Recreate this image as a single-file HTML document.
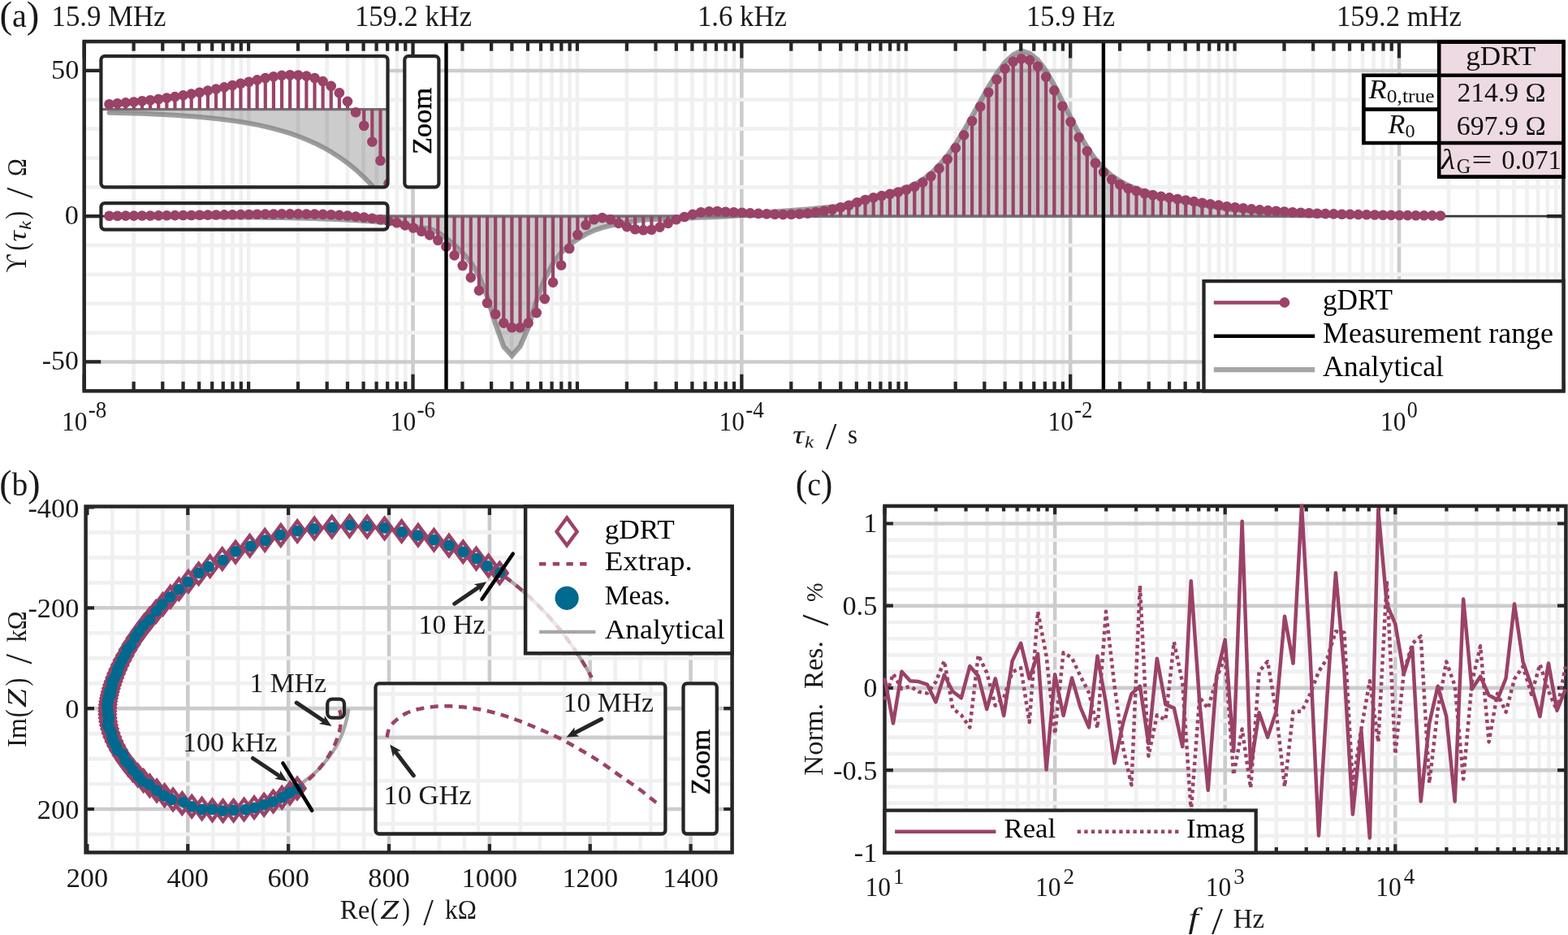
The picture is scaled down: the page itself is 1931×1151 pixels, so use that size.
<!DOCTYPE html>
<html lang="en"><head><meta charset="utf-8"><title>gDRT figure</title>
<style>html,body{margin:0;padding:0;background:#fff;overflow:hidden;}svg{display:block;}</style></head>
<body>
<svg width="1931" height="1151" viewBox="0 0 1931 1151" font-family='"Liberation Serif", "DejaVu Serif", serif'>
<rect x="0" y="0" width="1931" height="1151" rx="0" fill="#fff" stroke="none" stroke-width="0" />
<clipPath id="ca"><rect x="103.7" y="51.1" width="1821.7" height="430.2"/></clipPath>
<g clip-path="url(#ca)">
<line x1="164.63" y1="51.1" x2="164.63" y2="481.3" stroke="#f0f0f0" stroke-width="4.6" />
<line x1="200.27" y1="51.1" x2="200.27" y2="481.3" stroke="#f0f0f0" stroke-width="4.6" />
<line x1="225.56" y1="51.1" x2="225.56" y2="481.3" stroke="#f0f0f0" stroke-width="4.6" />
<line x1="245.18" y1="51.1" x2="245.18" y2="481.3" stroke="#f0f0f0" stroke-width="4.6" />
<line x1="261.21" y1="51.1" x2="261.21" y2="481.3" stroke="#f0f0f0" stroke-width="4.6" />
<line x1="274.76" y1="51.1" x2="274.76" y2="481.3" stroke="#f0f0f0" stroke-width="4.6" />
<line x1="286.5" y1="51.1" x2="286.5" y2="481.3" stroke="#f0f0f0" stroke-width="4.6" />
<line x1="296.85" y1="51.1" x2="296.85" y2="481.3" stroke="#f0f0f0" stroke-width="4.6" />
<line x1="306.11" y1="51.1" x2="306.11" y2="481.3" stroke="#f0f0f0" stroke-width="4.6" />
<line x1="367.04" y1="51.1" x2="367.04" y2="481.3" stroke="#f0f0f0" stroke-width="4.6" />
<line x1="402.69" y1="51.1" x2="402.69" y2="481.3" stroke="#f0f0f0" stroke-width="4.6" />
<line x1="427.97" y1="51.1" x2="427.97" y2="481.3" stroke="#f0f0f0" stroke-width="4.6" />
<line x1="447.59" y1="51.1" x2="447.59" y2="481.3" stroke="#f0f0f0" stroke-width="4.6" />
<line x1="463.62" y1="51.1" x2="463.62" y2="481.3" stroke="#f0f0f0" stroke-width="4.6" />
<line x1="477.17" y1="51.1" x2="477.17" y2="481.3" stroke="#f0f0f0" stroke-width="4.6" />
<line x1="488.91" y1="51.1" x2="488.91" y2="481.3" stroke="#f0f0f0" stroke-width="4.6" />
<line x1="499.26" y1="51.1" x2="499.26" y2="481.3" stroke="#f0f0f0" stroke-width="4.6" />
<line x1="508.52" y1="51.1" x2="508.52" y2="481.3" stroke="#cccccc" stroke-width="4.6" />
<line x1="569.45" y1="51.1" x2="569.45" y2="481.3" stroke="#f0f0f0" stroke-width="4.6" />
<line x1="605.1" y1="51.1" x2="605.1" y2="481.3" stroke="#f0f0f0" stroke-width="4.6" />
<line x1="630.39" y1="51.1" x2="630.39" y2="481.3" stroke="#f0f0f0" stroke-width="4.6" />
<line x1="650" y1="51.1" x2="650" y2="481.3" stroke="#f0f0f0" stroke-width="4.6" />
<line x1="666.03" y1="51.1" x2="666.03" y2="481.3" stroke="#f0f0f0" stroke-width="4.6" />
<line x1="679.58" y1="51.1" x2="679.58" y2="481.3" stroke="#f0f0f0" stroke-width="4.6" />
<line x1="691.32" y1="51.1" x2="691.32" y2="481.3" stroke="#f0f0f0" stroke-width="4.6" />
<line x1="701.67" y1="51.1" x2="701.67" y2="481.3" stroke="#f0f0f0" stroke-width="4.6" />
<line x1="710.93" y1="51.1" x2="710.93" y2="481.3" stroke="#f0f0f0" stroke-width="4.6" />
<line x1="771.87" y1="51.1" x2="771.87" y2="481.3" stroke="#f0f0f0" stroke-width="4.6" />
<line x1="807.51" y1="51.1" x2="807.51" y2="481.3" stroke="#f0f0f0" stroke-width="4.6" />
<line x1="832.8" y1="51.1" x2="832.8" y2="481.3" stroke="#f0f0f0" stroke-width="4.6" />
<line x1="852.41" y1="51.1" x2="852.41" y2="481.3" stroke="#f0f0f0" stroke-width="4.6" />
<line x1="868.44" y1="51.1" x2="868.44" y2="481.3" stroke="#f0f0f0" stroke-width="4.6" />
<line x1="881.99" y1="51.1" x2="881.99" y2="481.3" stroke="#f0f0f0" stroke-width="4.6" />
<line x1="893.73" y1="51.1" x2="893.73" y2="481.3" stroke="#f0f0f0" stroke-width="4.6" />
<line x1="904.08" y1="51.1" x2="904.08" y2="481.3" stroke="#f0f0f0" stroke-width="4.6" />
<line x1="913.34" y1="51.1" x2="913.34" y2="481.3" stroke="#cccccc" stroke-width="4.6" />
<line x1="974.28" y1="51.1" x2="974.28" y2="481.3" stroke="#f0f0f0" stroke-width="4.6" />
<line x1="1009.92" y1="51.1" x2="1009.92" y2="481.3" stroke="#f0f0f0" stroke-width="4.6" />
<line x1="1035.21" y1="51.1" x2="1035.21" y2="481.3" stroke="#f0f0f0" stroke-width="4.6" />
<line x1="1054.82" y1="51.1" x2="1054.82" y2="481.3" stroke="#f0f0f0" stroke-width="4.6" />
<line x1="1070.85" y1="51.1" x2="1070.85" y2="481.3" stroke="#f0f0f0" stroke-width="4.6" />
<line x1="1084.4" y1="51.1" x2="1084.4" y2="481.3" stroke="#f0f0f0" stroke-width="4.6" />
<line x1="1096.14" y1="51.1" x2="1096.14" y2="481.3" stroke="#f0f0f0" stroke-width="4.6" />
<line x1="1106.49" y1="51.1" x2="1106.49" y2="481.3" stroke="#f0f0f0" stroke-width="4.6" />
<line x1="1115.76" y1="51.1" x2="1115.76" y2="481.3" stroke="#f0f0f0" stroke-width="4.6" />
<line x1="1176.69" y1="51.1" x2="1176.69" y2="481.3" stroke="#f0f0f0" stroke-width="4.6" />
<line x1="1212.33" y1="51.1" x2="1212.33" y2="481.3" stroke="#f0f0f0" stroke-width="4.6" />
<line x1="1237.62" y1="51.1" x2="1237.62" y2="481.3" stroke="#f0f0f0" stroke-width="4.6" />
<line x1="1257.23" y1="51.1" x2="1257.23" y2="481.3" stroke="#f0f0f0" stroke-width="4.6" />
<line x1="1273.26" y1="51.1" x2="1273.26" y2="481.3" stroke="#f0f0f0" stroke-width="4.6" />
<line x1="1286.81" y1="51.1" x2="1286.81" y2="481.3" stroke="#f0f0f0" stroke-width="4.6" />
<line x1="1298.55" y1="51.1" x2="1298.55" y2="481.3" stroke="#f0f0f0" stroke-width="4.6" />
<line x1="1308.9" y1="51.1" x2="1308.9" y2="481.3" stroke="#f0f0f0" stroke-width="4.6" />
<line x1="1318.17" y1="51.1" x2="1318.17" y2="481.3" stroke="#cccccc" stroke-width="4.6" />
<line x1="1379.1" y1="51.1" x2="1379.1" y2="481.3" stroke="#f0f0f0" stroke-width="4.6" />
<line x1="1414.74" y1="51.1" x2="1414.74" y2="481.3" stroke="#f0f0f0" stroke-width="4.6" />
<line x1="1440.03" y1="51.1" x2="1440.03" y2="481.3" stroke="#f0f0f0" stroke-width="4.6" />
<line x1="1459.65" y1="51.1" x2="1459.65" y2="481.3" stroke="#f0f0f0" stroke-width="4.6" />
<line x1="1475.67" y1="51.1" x2="1475.67" y2="481.3" stroke="#f0f0f0" stroke-width="4.6" />
<line x1="1489.22" y1="51.1" x2="1489.22" y2="481.3" stroke="#f0f0f0" stroke-width="4.6" />
<line x1="1500.96" y1="51.1" x2="1500.96" y2="481.3" stroke="#f0f0f0" stroke-width="4.6" />
<line x1="1511.32" y1="51.1" x2="1511.32" y2="481.3" stroke="#f0f0f0" stroke-width="4.6" />
<line x1="1520.58" y1="51.1" x2="1520.58" y2="481.3" stroke="#f0f0f0" stroke-width="4.6" />
<line x1="1581.51" y1="51.1" x2="1581.51" y2="481.3" stroke="#f0f0f0" stroke-width="4.6" />
<line x1="1617.15" y1="51.1" x2="1617.15" y2="481.3" stroke="#f0f0f0" stroke-width="4.6" />
<line x1="1642.44" y1="51.1" x2="1642.44" y2="481.3" stroke="#f0f0f0" stroke-width="4.6" />
<line x1="1662.06" y1="51.1" x2="1662.06" y2="481.3" stroke="#f0f0f0" stroke-width="4.6" />
<line x1="1678.08" y1="51.1" x2="1678.08" y2="481.3" stroke="#f0f0f0" stroke-width="4.6" />
<line x1="1691.64" y1="51.1" x2="1691.64" y2="481.3" stroke="#f0f0f0" stroke-width="4.6" />
<line x1="1703.37" y1="51.1" x2="1703.37" y2="481.3" stroke="#f0f0f0" stroke-width="4.6" />
<line x1="1713.73" y1="51.1" x2="1713.73" y2="481.3" stroke="#f0f0f0" stroke-width="4.6" />
<line x1="1722.99" y1="51.1" x2="1722.99" y2="481.3" stroke="#cccccc" stroke-width="4.6" />
<line x1="1783.92" y1="51.1" x2="1783.92" y2="481.3" stroke="#f0f0f0" stroke-width="4.6" />
<line x1="1819.56" y1="51.1" x2="1819.56" y2="481.3" stroke="#f0f0f0" stroke-width="4.6" />
<line x1="1844.85" y1="51.1" x2="1844.85" y2="481.3" stroke="#f0f0f0" stroke-width="4.6" />
<line x1="1864.47" y1="51.1" x2="1864.47" y2="481.3" stroke="#f0f0f0" stroke-width="4.6" />
<line x1="1880.5" y1="51.1" x2="1880.5" y2="481.3" stroke="#f0f0f0" stroke-width="4.6" />
<line x1="1894.05" y1="51.1" x2="1894.05" y2="481.3" stroke="#f0f0f0" stroke-width="4.6" />
<line x1="1905.78" y1="51.1" x2="1905.78" y2="481.3" stroke="#f0f0f0" stroke-width="4.6" />
<line x1="1916.14" y1="51.1" x2="1916.14" y2="481.3" stroke="#f0f0f0" stroke-width="4.6" />
<line x1="103.7" y1="409.6" x2="1925.4" y2="409.6" stroke="#f0f0f0" stroke-width="4.6" />
<line x1="103.7" y1="373.75" x2="1925.4" y2="373.75" stroke="#f0f0f0" stroke-width="4.6" />
<line x1="103.7" y1="337.9" x2="1925.4" y2="337.9" stroke="#f0f0f0" stroke-width="4.6" />
<line x1="103.7" y1="302.05" x2="1925.4" y2="302.05" stroke="#f0f0f0" stroke-width="4.6" />
<line x1="103.7" y1="230.35" x2="1925.4" y2="230.35" stroke="#f0f0f0" stroke-width="4.6" />
<line x1="103.7" y1="194.5" x2="1925.4" y2="194.5" stroke="#f0f0f0" stroke-width="4.6" />
<line x1="103.7" y1="158.65" x2="1925.4" y2="158.65" stroke="#f0f0f0" stroke-width="4.6" />
<line x1="103.7" y1="122.8" x2="1925.4" y2="122.8" stroke="#f0f0f0" stroke-width="4.6" />
<line x1="103.7" y1="445.45" x2="1925.4" y2="445.45" stroke="#cccccc" stroke-width="4.6" />
<line x1="103.7" y1="266.2" x2="1925.4" y2="266.2" stroke="#cccccc" stroke-width="4.6" />
<line x1="103.7" y1="86.95" x2="1925.4" y2="86.95" stroke="#cccccc" stroke-width="4.6" />
<line x1="103.7" y1="266.2" x2="1925.4" y2="266.2" stroke="#333333" stroke-width="2.2" />
<polygon points="134.5,266.2 134.5,266.47 144.62,266.49 154.74,266.51 164.86,266.53 174.98,266.55 185.1,266.58 195.22,266.61 205.34,266.64 215.46,266.68 225.58,266.72 235.7,266.77 245.82,266.83 255.94,266.89 266.06,266.96 276.18,267.04 286.3,267.13 296.42,267.23 306.54,267.34 316.66,267.47 326.78,267.62 336.9,267.78 347.02,267.96 357.14,268.17 367.26,268.41 377.38,268.67 387.5,268.97 397.62,269.31 407.74,269.69 417.86,270.12 427.98,270.61 438.1,271.15 448.22,271.77 458.34,272.47 468.46,273.26 478.58,274.15 488.7,275.15 498.82,277.75 508.94,279.04 519.06,280.33 529.18,281.61 539.3,285.92 549.42,293.2 559.54,301.84 569.66,311.46 579.78,323.14 589.9,339.2 600.02,365.22 610.14,398.59 620.26,426.64 630.38,437.68 640.5,426.28 650.62,403.16 660.74,370.08 670.86,343.43 680.98,324.43 691.1,311.01 701.22,301.39 711.34,294.26 721.46,288.23 731.58,283.63 741.7,280.28 751.82,277.55 761.94,275.5 772.06,273.42 782.18,271.92 792.3,270.66 802.42,269.92 812.54,269.48 822.66,269.1 832.78,268.76 842.9,268.45 853.02,268.11 863.14,267.69 873.26,267.28 883.38,266.87 893.5,266.24 903.62,265.57 913.74,264.9 923.86,264.18 933.98,262.92 944.1,261.65 954.22,260.69 964.34,259.9 974.46,259.1 984.58,258.31 994.7,257.52 1004.82,256.62 1014.94,255.61 1025.06,254.59 1035.18,253.58 1045.3,251.19 1055.42,247.67 1065.54,244.45 1075.66,241.83 1085.78,239.51 1095.9,237.29 1106.02,234.59 1116.14,231.1 1126.26,227.1 1136.38,221.46 1146.5,213.51 1156.62,203.37 1166.74,191.52 1176.86,177.17 1186.98,161.02 1197.1,143.17 1207.22,124.93 1217.34,106.98 1227.46,90.73 1237.58,76.89 1247.7,67.55 1257.82,62.44 1267.94,65.85 1278.06,73.81 1288.18,87.33 1298.3,104.95 1308.42,124.96 1318.54,144.62 1328.66,164.28 1338.78,181.26 1348.9,196.04 1359.02,207.44 1369.14,216.34 1379.26,223 1389.38,228.36 1399.5,232.23 1409.62,235.85 1419.74,238.67 1429.86,241.18 1439.98,243.4 1450.1,245.63 1460.22,247.8 1470.34,249.98 1480.46,252.21 1490.58,253.89 1500.7,255.47 1510.82,257.25 1520.94,258.53 1531.06,259.31 1541.18,260.15 1551.3,260.98 1561.42,261.47 1571.54,261.9 1581.66,262.43 1591.78,262.9 1601.9,263.18 1612.02,263.5 1622.14,263.73 1632.26,263.91 1642.38,263.98 1652.5,264.06 1662.62,264.19 1672.74,264.32 1682.86,264.44 1692.98,264.57 1703.1,264.7 1713.22,264.85 1723.34,265 1733.46,265.1 1743.58,265.2 1753.7,265.3 1763.82,265.4 1773.94,265.5 1773.94,266.2" fill="#000" fill-opacity="0.2"/>
<line x1="134.5" y1="266.2" x2="1773.94" y2="266.2" stroke="#707070" stroke-width="3.3" />
<polyline points="134.5,266.47 144.62,266.49 154.74,266.51 164.86,266.53 174.98,266.55 185.1,266.58 195.22,266.61 205.34,266.64 215.46,266.68 225.58,266.72 235.7,266.77 245.82,266.83 255.94,266.89 266.06,266.96 276.18,267.04 286.3,267.13 296.42,267.23 306.54,267.34 316.66,267.47 326.78,267.62 336.9,267.78 347.02,267.96 357.14,268.17 367.26,268.41 377.38,268.67 387.5,268.97 397.62,269.31 407.74,269.69 417.86,270.12 427.98,270.61 438.1,271.15 448.22,271.77 458.34,272.47 468.46,273.26 478.58,274.15 488.7,275.15 498.82,277.75 508.94,279.04 519.06,280.33 529.18,281.61 539.3,285.92 549.42,293.2 559.54,301.84 569.66,311.46 579.78,323.14 589.9,339.2 600.02,365.22 610.14,398.59 620.26,426.64 630.38,437.68 640.5,426.28 650.62,403.16 660.74,370.08 670.86,343.43 680.98,324.43 691.1,311.01 701.22,301.39 711.34,294.26 721.46,288.23 731.58,283.63 741.7,280.28 751.82,277.55 761.94,275.5 772.06,273.42 782.18,271.92 792.3,270.66 802.42,269.92 812.54,269.48 822.66,269.1 832.78,268.76 842.9,268.45 853.02,268.11 863.14,267.69 873.26,267.28 883.38,266.87 893.5,266.24 903.62,265.57 913.74,264.9 923.86,264.18 933.98,262.92 944.1,261.65 954.22,260.69 964.34,259.9 974.46,259.1 984.58,258.31 994.7,257.52 1004.82,256.62 1014.94,255.61 1025.06,254.59 1035.18,253.58 1045.3,251.19 1055.42,247.67 1065.54,244.45 1075.66,241.83 1085.78,239.51 1095.9,237.29 1106.02,234.59 1116.14,231.1 1126.26,227.1 1136.38,221.46 1146.5,213.51 1156.62,203.37 1166.74,191.52 1176.86,177.17 1186.98,161.02 1197.1,143.17 1207.22,124.93 1217.34,106.98 1227.46,90.73 1237.58,76.89 1247.7,67.55 1257.82,62.44 1267.94,65.85 1278.06,73.81 1288.18,87.33 1298.3,104.95 1308.42,124.96 1318.54,144.62 1328.66,164.28 1338.78,181.26 1348.9,196.04 1359.02,207.44 1369.14,216.34 1379.26,223 1389.38,228.36 1399.5,232.23 1409.62,235.85 1419.74,238.67 1429.86,241.18 1439.98,243.4 1450.1,245.63 1460.22,247.8 1470.34,249.98 1480.46,252.21 1490.58,253.89 1500.7,255.47 1510.82,257.25 1520.94,258.53 1531.06,259.31 1541.18,260.15 1551.3,260.98 1561.42,261.47 1571.54,261.9 1581.66,262.43 1591.78,262.9 1601.9,263.18 1612.02,263.5 1622.14,263.73 1632.26,263.91 1642.38,263.98 1652.5,264.06 1662.62,264.19 1672.74,264.32 1682.86,264.44 1692.98,264.57 1703.1,264.7 1713.22,264.85 1723.34,265 1733.46,265.1 1743.58,265.2 1753.7,265.3 1763.82,265.4 1773.94,265.5" fill="none" stroke="#838383" stroke-width="6.3" stroke-opacity="0.78" stroke-linejoin="miter"/>
<path d="M134.5 266.2V265.78 M144.62 266.2V265.71 M154.74 266.2V265.65 M164.86 266.2V265.59 M174.98 266.2V265.51 M185.1 266.2V265.44 M195.22 266.2V265.36 M205.34 266.2V265.26 M215.46 266.2V265.17 M225.58 266.2V265.05 M235.7 266.2V264.93 M245.82 266.2V264.81 M255.94 266.2V264.67 M266.06 266.2V264.53 M276.18 266.2V264.39 M286.3 266.2V264.23 M296.42 266.2V264.08 M306.54 266.2V263.94 M316.66 266.2V263.79 M326.78 266.2V263.63 M336.9 266.2V263.51 M347.02 266.2V263.42 M357.14 266.2V263.38 M367.26 266.2V263.39 M377.38 266.2V263.47 M387.5 266.2V263.63 M397.62 266.2V263.9 M407.74 266.2V264.29 M417.86 266.2V264.84 M427.98 266.2V265.55 M438.1 266.2V266.44 M448.22 266.2V267.54 M458.34 266.2V268.86 M468.46 266.2V270.41 M478.58 266.2V272.29 M488.7 266.2V274.3 M498.82 266.2V277.4 M508.94 266.2V280.5 M519.06 266.2V284.7 M529.18 266.2V289.4 M539.3 266.2V295.7 M549.42 266.2V303.5 M559.54 266.2V314.4 M569.66 266.2V327 M579.78 266.2V341.6 M589.9 266.2V357.6 M600.02 266.2V373 M610.14 266.2V386.8 M620.26 266.2V397.6 M630.38 266.2V403.3 M640.5 266.2V403.3 M650.62 266.2V397.6 M660.74 266.2V385.1 M670.86 266.2V367.85 M680.98 266.2V347.6 M691.1 266.2V326.5 M701.22 266.2V306 M711.34 266.2V289 M721.46 266.2V277 M731.58 266.2V270.2 M741.7 266.2V268.15 M751.82 266.2V270.2 M761.94 266.2V274.9 M772.06 266.2V279.1 M782.18 266.2V282.2 M792.3 266.2V283.3 M802.42 266.2V282.75 M812.54 266.2V279.6 M822.66 266.2V274.9 M832.78 266.2V270.2 M842.9 266.2V267 M853.02 266.2V263.9 M863.14 266.2V261.3 M873.26 266.2V260.3 M883.38 266.2V260.05 M893.5 266.2V260.8 M903.62 266.2V261.3 M913.74 266.2V261.8 M923.86 266.2V262.35 M933.98 266.2V262.9 M944.1 266.2V263.4 M954.22 266.2V263.9 M964.34 266.2V264.1 M974.46 266.2V263.9 M984.58 266.2V263.4 M994.7 266.2V262.6 M1004.82 266.2V261.3 M1014.94 266.2V259.7 M1025.06 266.2V257.8 M1035.18 266.2V255.2 M1045.3 266.2V252.7 M1055.42 266.2V249.2 M1065.54 266.2V246 M1075.66 266.2V243.4 M1085.78 266.2V241.1 M1095.9 266.2V238.9 M1106.02 266.2V236.6 M1116.14 266.2V233.5 M1126.26 266.2V229.9 M1136.38 266.2V224.65 M1146.5 266.2V217.1 M1156.62 266.2V207.4 M1166.74 266.2V196 M1176.86 266.2V182.1 M1186.98 266.2V166.4 M1197.1 266.2V149 M1207.22 266.2V131.2 M1217.34 266.2V113.7 M1227.46 266.2V97.9 M1237.58 266.2V84.6 M1247.7 266.2V75.8 M1257.82 266.2V72.3 M1267.94 266.2V74.1 M1278.06 266.2V81.7 M1288.18 266.2V94.5 M1298.3 266.2V111.4 M1308.42 266.2V130.7 M1318.54 266.2V150 M1328.66 266.2V169.3 M1338.78 266.2V186.1 M1348.9 266.2V200.7 M1359.02 266.2V212.1 M1369.14 266.2V221 M1379.26 266.2V227.3 M1389.38 266.2V231.95 M1399.5 266.2V235.1 M1409.62 266.2V238 M1419.74 266.2V240.1 M1429.86 266.2V241.9 M1439.98 266.2V243.4 M1450.1 266.2V245 M1460.22 266.2V246.55 M1470.34 266.2V248.1 M1480.46 266.2V249.7 M1490.58 266.2V251.2 M1500.7 266.2V252.6 M1510.82 266.2V254.2 M1520.94 266.2V255.3 M1531.06 266.2V256.3 M1541.18 266.2V257.35 M1551.3 266.2V258.4 M1561.42 266.2V259.1 M1571.54 266.2V259.75 M1581.66 266.2V260.5 M1591.78 266.2V261.2 M1601.9 266.2V261.7 M1612.02 266.2V262.25 M1622.14 266.2V262.7 M1632.26 266.2V263.1 M1642.38 266.2V263.4 M1652.5 266.2V263.7 M1662.62 266.2V263.9 M1672.74 266.2V264.1 M1682.86 266.2V264.3 M1692.98 266.2V264.5 M1703.1 266.2V264.7 M1713.22 266.2V264.85 M1723.34 266.2V265 M1733.46 266.2V265.1 M1743.58 266.2V265.2 M1753.7 266.2V265.3 M1763.82 266.2V265.4 M1773.94 266.2V265.5" stroke="#9a4267" stroke-width="4.2" fill="none"/>
<circle cx="134.5" cy="265.78" r="6.3" fill="#9a4267"/>
<circle cx="144.62" cy="265.71" r="6.3" fill="#9a4267"/>
<circle cx="154.74" cy="265.65" r="6.3" fill="#9a4267"/>
<circle cx="164.86" cy="265.59" r="6.3" fill="#9a4267"/>
<circle cx="174.98" cy="265.51" r="6.3" fill="#9a4267"/>
<circle cx="185.1" cy="265.44" r="6.3" fill="#9a4267"/>
<circle cx="195.22" cy="265.36" r="6.3" fill="#9a4267"/>
<circle cx="205.34" cy="265.26" r="6.3" fill="#9a4267"/>
<circle cx="215.46" cy="265.17" r="6.3" fill="#9a4267"/>
<circle cx="225.58" cy="265.05" r="6.3" fill="#9a4267"/>
<circle cx="235.7" cy="264.93" r="6.3" fill="#9a4267"/>
<circle cx="245.82" cy="264.81" r="6.3" fill="#9a4267"/>
<circle cx="255.94" cy="264.67" r="6.3" fill="#9a4267"/>
<circle cx="266.06" cy="264.53" r="6.3" fill="#9a4267"/>
<circle cx="276.18" cy="264.39" r="6.3" fill="#9a4267"/>
<circle cx="286.3" cy="264.23" r="6.3" fill="#9a4267"/>
<circle cx="296.42" cy="264.08" r="6.3" fill="#9a4267"/>
<circle cx="306.54" cy="263.94" r="6.3" fill="#9a4267"/>
<circle cx="316.66" cy="263.79" r="6.3" fill="#9a4267"/>
<circle cx="326.78" cy="263.63" r="6.3" fill="#9a4267"/>
<circle cx="336.9" cy="263.51" r="6.3" fill="#9a4267"/>
<circle cx="347.02" cy="263.42" r="6.3" fill="#9a4267"/>
<circle cx="357.14" cy="263.38" r="6.3" fill="#9a4267"/>
<circle cx="367.26" cy="263.39" r="6.3" fill="#9a4267"/>
<circle cx="377.38" cy="263.47" r="6.3" fill="#9a4267"/>
<circle cx="387.5" cy="263.63" r="6.3" fill="#9a4267"/>
<circle cx="397.62" cy="263.9" r="6.3" fill="#9a4267"/>
<circle cx="407.74" cy="264.29" r="6.3" fill="#9a4267"/>
<circle cx="417.86" cy="264.84" r="6.3" fill="#9a4267"/>
<circle cx="427.98" cy="265.55" r="6.3" fill="#9a4267"/>
<circle cx="438.1" cy="266.44" r="6.3" fill="#9a4267"/>
<circle cx="448.22" cy="267.54" r="6.3" fill="#9a4267"/>
<circle cx="458.34" cy="268.86" r="6.3" fill="#9a4267"/>
<circle cx="468.46" cy="270.41" r="6.3" fill="#9a4267"/>
<circle cx="478.58" cy="272.29" r="6.3" fill="#9a4267"/>
<circle cx="488.7" cy="274.3" r="6.3" fill="#9a4267"/>
<circle cx="498.82" cy="277.4" r="6.3" fill="#9a4267"/>
<circle cx="508.94" cy="280.5" r="6.3" fill="#9a4267"/>
<circle cx="519.06" cy="284.7" r="6.3" fill="#9a4267"/>
<circle cx="529.18" cy="289.4" r="6.3" fill="#9a4267"/>
<circle cx="539.3" cy="295.7" r="6.3" fill="#9a4267"/>
<circle cx="549.42" cy="303.5" r="6.3" fill="#9a4267"/>
<circle cx="559.54" cy="314.4" r="6.3" fill="#9a4267"/>
<circle cx="569.66" cy="327" r="6.3" fill="#9a4267"/>
<circle cx="579.78" cy="341.6" r="6.3" fill="#9a4267"/>
<circle cx="589.9" cy="357.6" r="6.3" fill="#9a4267"/>
<circle cx="600.02" cy="373" r="6.3" fill="#9a4267"/>
<circle cx="610.14" cy="386.8" r="6.3" fill="#9a4267"/>
<circle cx="620.26" cy="397.6" r="6.3" fill="#9a4267"/>
<circle cx="630.38" cy="403.3" r="6.3" fill="#9a4267"/>
<circle cx="640.5" cy="403.3" r="6.3" fill="#9a4267"/>
<circle cx="650.62" cy="397.6" r="6.3" fill="#9a4267"/>
<circle cx="660.74" cy="385.1" r="6.3" fill="#9a4267"/>
<circle cx="670.86" cy="367.85" r="6.3" fill="#9a4267"/>
<circle cx="680.98" cy="347.6" r="6.3" fill="#9a4267"/>
<circle cx="691.1" cy="326.5" r="6.3" fill="#9a4267"/>
<circle cx="701.22" cy="306" r="6.3" fill="#9a4267"/>
<circle cx="711.34" cy="289" r="6.3" fill="#9a4267"/>
<circle cx="721.46" cy="277" r="6.3" fill="#9a4267"/>
<circle cx="731.58" cy="270.2" r="6.3" fill="#9a4267"/>
<circle cx="741.7" cy="268.15" r="6.3" fill="#9a4267"/>
<circle cx="751.82" cy="270.2" r="6.3" fill="#9a4267"/>
<circle cx="761.94" cy="274.9" r="6.3" fill="#9a4267"/>
<circle cx="772.06" cy="279.1" r="6.3" fill="#9a4267"/>
<circle cx="782.18" cy="282.2" r="6.3" fill="#9a4267"/>
<circle cx="792.3" cy="283.3" r="6.3" fill="#9a4267"/>
<circle cx="802.42" cy="282.75" r="6.3" fill="#9a4267"/>
<circle cx="812.54" cy="279.6" r="6.3" fill="#9a4267"/>
<circle cx="822.66" cy="274.9" r="6.3" fill="#9a4267"/>
<circle cx="832.78" cy="270.2" r="6.3" fill="#9a4267"/>
<circle cx="842.9" cy="267" r="6.3" fill="#9a4267"/>
<circle cx="853.02" cy="263.9" r="6.3" fill="#9a4267"/>
<circle cx="863.14" cy="261.3" r="6.3" fill="#9a4267"/>
<circle cx="873.26" cy="260.3" r="6.3" fill="#9a4267"/>
<circle cx="883.38" cy="260.05" r="6.3" fill="#9a4267"/>
<circle cx="893.5" cy="260.8" r="6.3" fill="#9a4267"/>
<circle cx="903.62" cy="261.3" r="6.3" fill="#9a4267"/>
<circle cx="913.74" cy="261.8" r="6.3" fill="#9a4267"/>
<circle cx="923.86" cy="262.35" r="6.3" fill="#9a4267"/>
<circle cx="933.98" cy="262.9" r="6.3" fill="#9a4267"/>
<circle cx="944.1" cy="263.4" r="6.3" fill="#9a4267"/>
<circle cx="954.22" cy="263.9" r="6.3" fill="#9a4267"/>
<circle cx="964.34" cy="264.1" r="6.3" fill="#9a4267"/>
<circle cx="974.46" cy="263.9" r="6.3" fill="#9a4267"/>
<circle cx="984.58" cy="263.4" r="6.3" fill="#9a4267"/>
<circle cx="994.7" cy="262.6" r="6.3" fill="#9a4267"/>
<circle cx="1004.82" cy="261.3" r="6.3" fill="#9a4267"/>
<circle cx="1014.94" cy="259.7" r="6.3" fill="#9a4267"/>
<circle cx="1025.06" cy="257.8" r="6.3" fill="#9a4267"/>
<circle cx="1035.18" cy="255.2" r="6.3" fill="#9a4267"/>
<circle cx="1045.3" cy="252.7" r="6.3" fill="#9a4267"/>
<circle cx="1055.42" cy="249.2" r="6.3" fill="#9a4267"/>
<circle cx="1065.54" cy="246" r="6.3" fill="#9a4267"/>
<circle cx="1075.66" cy="243.4" r="6.3" fill="#9a4267"/>
<circle cx="1085.78" cy="241.1" r="6.3" fill="#9a4267"/>
<circle cx="1095.9" cy="238.9" r="6.3" fill="#9a4267"/>
<circle cx="1106.02" cy="236.6" r="6.3" fill="#9a4267"/>
<circle cx="1116.14" cy="233.5" r="6.3" fill="#9a4267"/>
<circle cx="1126.26" cy="229.9" r="6.3" fill="#9a4267"/>
<circle cx="1136.38" cy="224.65" r="6.3" fill="#9a4267"/>
<circle cx="1146.5" cy="217.1" r="6.3" fill="#9a4267"/>
<circle cx="1156.62" cy="207.4" r="6.3" fill="#9a4267"/>
<circle cx="1166.74" cy="196" r="6.3" fill="#9a4267"/>
<circle cx="1176.86" cy="182.1" r="6.3" fill="#9a4267"/>
<circle cx="1186.98" cy="166.4" r="6.3" fill="#9a4267"/>
<circle cx="1197.1" cy="149" r="6.3" fill="#9a4267"/>
<circle cx="1207.22" cy="131.2" r="6.3" fill="#9a4267"/>
<circle cx="1217.34" cy="113.7" r="6.3" fill="#9a4267"/>
<circle cx="1227.46" cy="97.9" r="6.3" fill="#9a4267"/>
<circle cx="1237.58" cy="84.6" r="6.3" fill="#9a4267"/>
<circle cx="1247.7" cy="75.8" r="6.3" fill="#9a4267"/>
<circle cx="1257.82" cy="72.3" r="6.3" fill="#9a4267"/>
<circle cx="1267.94" cy="74.1" r="6.3" fill="#9a4267"/>
<circle cx="1278.06" cy="81.7" r="6.3" fill="#9a4267"/>
<circle cx="1288.18" cy="94.5" r="6.3" fill="#9a4267"/>
<circle cx="1298.3" cy="111.4" r="6.3" fill="#9a4267"/>
<circle cx="1308.42" cy="130.7" r="6.3" fill="#9a4267"/>
<circle cx="1318.54" cy="150" r="6.3" fill="#9a4267"/>
<circle cx="1328.66" cy="169.3" r="6.3" fill="#9a4267"/>
<circle cx="1338.78" cy="186.1" r="6.3" fill="#9a4267"/>
<circle cx="1348.9" cy="200.7" r="6.3" fill="#9a4267"/>
<circle cx="1359.02" cy="212.1" r="6.3" fill="#9a4267"/>
<circle cx="1369.14" cy="221" r="6.3" fill="#9a4267"/>
<circle cx="1379.26" cy="227.3" r="6.3" fill="#9a4267"/>
<circle cx="1389.38" cy="231.95" r="6.3" fill="#9a4267"/>
<circle cx="1399.5" cy="235.1" r="6.3" fill="#9a4267"/>
<circle cx="1409.62" cy="238" r="6.3" fill="#9a4267"/>
<circle cx="1419.74" cy="240.1" r="6.3" fill="#9a4267"/>
<circle cx="1429.86" cy="241.9" r="6.3" fill="#9a4267"/>
<circle cx="1439.98" cy="243.4" r="6.3" fill="#9a4267"/>
<circle cx="1450.1" cy="245" r="6.3" fill="#9a4267"/>
<circle cx="1460.22" cy="246.55" r="6.3" fill="#9a4267"/>
<circle cx="1470.34" cy="248.1" r="6.3" fill="#9a4267"/>
<circle cx="1480.46" cy="249.7" r="6.3" fill="#9a4267"/>
<circle cx="1490.58" cy="251.2" r="6.3" fill="#9a4267"/>
<circle cx="1500.7" cy="252.6" r="6.3" fill="#9a4267"/>
<circle cx="1510.82" cy="254.2" r="6.3" fill="#9a4267"/>
<circle cx="1520.94" cy="255.3" r="6.3" fill="#9a4267"/>
<circle cx="1531.06" cy="256.3" r="6.3" fill="#9a4267"/>
<circle cx="1541.18" cy="257.35" r="6.3" fill="#9a4267"/>
<circle cx="1551.3" cy="258.4" r="6.3" fill="#9a4267"/>
<circle cx="1561.42" cy="259.1" r="6.3" fill="#9a4267"/>
<circle cx="1571.54" cy="259.75" r="6.3" fill="#9a4267"/>
<circle cx="1581.66" cy="260.5" r="6.3" fill="#9a4267"/>
<circle cx="1591.78" cy="261.2" r="6.3" fill="#9a4267"/>
<circle cx="1601.9" cy="261.7" r="6.3" fill="#9a4267"/>
<circle cx="1612.02" cy="262.25" r="6.3" fill="#9a4267"/>
<circle cx="1622.14" cy="262.7" r="6.3" fill="#9a4267"/>
<circle cx="1632.26" cy="263.1" r="6.3" fill="#9a4267"/>
<circle cx="1642.38" cy="263.4" r="6.3" fill="#9a4267"/>
<circle cx="1652.5" cy="263.7" r="6.3" fill="#9a4267"/>
<circle cx="1662.62" cy="263.9" r="6.3" fill="#9a4267"/>
<circle cx="1672.74" cy="264.1" r="6.3" fill="#9a4267"/>
<circle cx="1682.86" cy="264.3" r="6.3" fill="#9a4267"/>
<circle cx="1692.98" cy="264.5" r="6.3" fill="#9a4267"/>
<circle cx="1703.1" cy="264.7" r="6.3" fill="#9a4267"/>
<circle cx="1713.22" cy="264.85" r="6.3" fill="#9a4267"/>
<circle cx="1723.34" cy="265" r="6.3" fill="#9a4267"/>
<circle cx="1733.46" cy="265.1" r="6.3" fill="#9a4267"/>
<circle cx="1743.58" cy="265.2" r="6.3" fill="#9a4267"/>
<circle cx="1753.7" cy="265.3" r="6.3" fill="#9a4267"/>
<circle cx="1763.82" cy="265.4" r="6.3" fill="#9a4267"/>
<circle cx="1773.94" cy="265.5" r="6.3" fill="#9a4267"/>
<line x1="549.5" y1="51.1" x2="549.5" y2="481.3" stroke="#000" stroke-width="4.4" />
<line x1="1358.9" y1="51.1" x2="1358.9" y2="481.3" stroke="#000" stroke-width="4.4" />
</g>
<path d="M103.7 481.3v-20.5M103.7 51.1v20.5M164.63 481.3v-11.6M164.63 51.1v11.6M200.27 481.3v-11.6M200.27 51.1v11.6M225.56 481.3v-11.6M225.56 51.1v11.6M245.18 481.3v-11.6M245.18 51.1v11.6M261.21 481.3v-11.6M261.21 51.1v11.6M274.76 481.3v-11.6M274.76 51.1v11.6M286.5 481.3v-11.6M286.5 51.1v11.6M296.85 481.3v-11.6M296.85 51.1v11.6M306.11 481.3v-11.6M306.11 51.1v11.6M367.04 481.3v-11.6M367.04 51.1v11.6M402.69 481.3v-11.6M402.69 51.1v11.6M427.97 481.3v-11.6M427.97 51.1v11.6M447.59 481.3v-11.6M447.59 51.1v11.6M463.62 481.3v-11.6M463.62 51.1v11.6M477.17 481.3v-11.6M477.17 51.1v11.6M488.91 481.3v-11.6M488.91 51.1v11.6M499.26 481.3v-11.6M499.26 51.1v11.6M508.52 481.3v-20.5M508.52 51.1v20.5M569.45 481.3v-11.6M569.45 51.1v11.6M605.1 481.3v-11.6M605.1 51.1v11.6M630.39 481.3v-11.6M630.39 51.1v11.6M650 481.3v-11.6M650 51.1v11.6M666.03 481.3v-11.6M666.03 51.1v11.6M679.58 481.3v-11.6M679.58 51.1v11.6M691.32 481.3v-11.6M691.32 51.1v11.6M701.67 481.3v-11.6M701.67 51.1v11.6M710.93 481.3v-11.6M710.93 51.1v11.6M771.87 481.3v-11.6M771.87 51.1v11.6M807.51 481.3v-11.6M807.51 51.1v11.6M832.8 481.3v-11.6M832.8 51.1v11.6M852.41 481.3v-11.6M852.41 51.1v11.6M868.44 481.3v-11.6M868.44 51.1v11.6M881.99 481.3v-11.6M881.99 51.1v11.6M893.73 481.3v-11.6M893.73 51.1v11.6M904.08 481.3v-11.6M904.08 51.1v11.6M913.34 481.3v-20.5M913.34 51.1v20.5M974.28 481.3v-11.6M974.28 51.1v11.6M1009.92 481.3v-11.6M1009.92 51.1v11.6M1035.21 481.3v-11.6M1035.21 51.1v11.6M1054.82 481.3v-11.6M1054.82 51.1v11.6M1070.85 481.3v-11.6M1070.85 51.1v11.6M1084.4 481.3v-11.6M1084.4 51.1v11.6M1096.14 481.3v-11.6M1096.14 51.1v11.6M1106.49 481.3v-11.6M1106.49 51.1v11.6M1115.76 481.3v-11.6M1115.76 51.1v11.6M1176.69 481.3v-11.6M1176.69 51.1v11.6M1212.33 481.3v-11.6M1212.33 51.1v11.6M1237.62 481.3v-11.6M1237.62 51.1v11.6M1257.23 481.3v-11.6M1257.23 51.1v11.6M1273.26 481.3v-11.6M1273.26 51.1v11.6M1286.81 481.3v-11.6M1286.81 51.1v11.6M1298.55 481.3v-11.6M1298.55 51.1v11.6M1308.9 481.3v-11.6M1308.9 51.1v11.6M1318.17 481.3v-20.5M1318.17 51.1v20.5M1379.1 481.3v-11.6M1379.1 51.1v11.6M1414.74 481.3v-11.6M1414.74 51.1v11.6M1440.03 481.3v-11.6M1440.03 51.1v11.6M1459.65 481.3v-11.6M1459.65 51.1v11.6M1475.67 481.3v-11.6M1475.67 51.1v11.6M1489.22 481.3v-11.6M1489.22 51.1v11.6M1500.96 481.3v-11.6M1500.96 51.1v11.6M1511.32 481.3v-11.6M1511.32 51.1v11.6M1520.58 481.3v-11.6M1520.58 51.1v11.6M1581.51 481.3v-11.6M1581.51 51.1v11.6M1617.15 481.3v-11.6M1617.15 51.1v11.6M1642.44 481.3v-11.6M1642.44 51.1v11.6M1662.06 481.3v-11.6M1662.06 51.1v11.6M1678.08 481.3v-11.6M1678.08 51.1v11.6M1691.64 481.3v-11.6M1691.64 51.1v11.6M1703.37 481.3v-11.6M1703.37 51.1v11.6M1713.73 481.3v-11.6M1713.73 51.1v11.6M1722.99 481.3v-20.5M1722.99 51.1v20.5M1783.92 481.3v-11.6M1783.92 51.1v11.6M1819.56 481.3v-11.6M1819.56 51.1v11.6M1844.85 481.3v-11.6M1844.85 51.1v11.6M1864.47 481.3v-11.6M1864.47 51.1v11.6M1880.5 481.3v-11.6M1880.5 51.1v11.6M1894.05 481.3v-11.6M1894.05 51.1v11.6M1905.78 481.3v-11.6M1905.78 51.1v11.6M1916.14 481.3v-11.6M1916.14 51.1v11.6M1925.4 481.3v-11.6M1925.4 51.1v11.6M103.7 445.45h20.5M1925.4 445.45h-20.5M103.7 266.2h20.5M1925.4 266.2h-20.5M103.7 86.95h20.5M1925.4 86.95h-20.5" stroke="#262626" stroke-width="4.2" fill="none"/>
<rect x="103.7" y="51.1" width="1821.7" height="430.2" rx="0" fill="none" stroke="#262626" stroke-width="4.5" />
<rect x="124.4" y="69.05" width="353.1" height="161.25" rx="4.5" fill="#fff" stroke="none" stroke-width="0" />
<clipPath id="cai"><rect x="124.4" y="69.05" width="353.1" height="161.25" rx="4.5"/></clipPath>
<g clip-path="url(#cai)">
<line x1="164.63" y1="69.05" x2="164.63" y2="230.3" stroke="#f0f0f0" stroke-width="4.6" />
<line x1="200.27" y1="69.05" x2="200.27" y2="230.3" stroke="#f0f0f0" stroke-width="4.6" />
<line x1="225.56" y1="69.05" x2="225.56" y2="230.3" stroke="#f0f0f0" stroke-width="4.6" />
<line x1="245.18" y1="69.05" x2="245.18" y2="230.3" stroke="#f0f0f0" stroke-width="4.6" />
<line x1="261.21" y1="69.05" x2="261.21" y2="230.3" stroke="#f0f0f0" stroke-width="4.6" />
<line x1="274.76" y1="69.05" x2="274.76" y2="230.3" stroke="#f0f0f0" stroke-width="4.6" />
<line x1="286.5" y1="69.05" x2="286.5" y2="230.3" stroke="#f0f0f0" stroke-width="4.6" />
<line x1="296.85" y1="69.05" x2="296.85" y2="230.3" stroke="#f0f0f0" stroke-width="4.6" />
<line x1="306.11" y1="69.05" x2="306.11" y2="230.3" stroke="#f0f0f0" stroke-width="4.6" />
<line x1="367.04" y1="69.05" x2="367.04" y2="230.3" stroke="#f0f0f0" stroke-width="4.6" />
<line x1="402.69" y1="69.05" x2="402.69" y2="230.3" stroke="#f0f0f0" stroke-width="4.6" />
<line x1="427.97" y1="69.05" x2="427.97" y2="230.3" stroke="#f0f0f0" stroke-width="4.6" />
<line x1="447.59" y1="69.05" x2="447.59" y2="230.3" stroke="#f0f0f0" stroke-width="4.6" />
<line x1="463.62" y1="69.05" x2="463.62" y2="230.3" stroke="#f0f0f0" stroke-width="4.6" />
<polygon points="134.5,134.6 134.5,138.67 144.62,138.92 154.74,139.2 164.86,139.51 174.98,139.86 185.1,140.26 195.22,140.72 205.34,141.23 215.46,141.8 225.58,142.45 235.7,143.18 245.82,144.01 255.94,144.94 266.06,145.99 276.18,147.18 286.3,148.52 296.42,150.03 306.54,151.74 316.66,153.66 326.78,155.84 336.9,158.29 347.02,161.06 357.14,164.18 367.26,167.71 377.38,171.68 387.5,176.17 397.62,181.24 407.74,186.96 417.86,193.41 427.98,200.69 438.1,208.9 448.22,218.17 458.34,228.64 468.46,240.44 478.58,253.77 488.7,268.8 498.82,307.88 498.82,134.6" fill="#000" fill-opacity="0.2"/>
<line x1="124.4" y1="134.6" x2="477.5" y2="134.6" stroke="#707070" stroke-width="3.3" />
<polyline points="134.5,138.67 144.62,138.92 154.74,139.2 164.86,139.51 174.98,139.86 185.1,140.26 195.22,140.72 205.34,141.23 215.46,141.8 225.58,142.45 235.7,143.18 245.82,144.01 255.94,144.94 266.06,145.99 276.18,147.18 286.3,148.52 296.42,150.03 306.54,151.74 316.66,153.66 326.78,155.84 336.9,158.29 347.02,161.06 357.14,164.18 367.26,167.71 377.38,171.68 387.5,176.17 397.62,181.24 407.74,186.96 417.86,193.41 427.98,200.69 438.1,208.9 448.22,218.17 458.34,228.64 468.46,240.44 478.58,253.77 488.7,268.8 498.82,307.88" fill="none" stroke="#838383" stroke-width="6" stroke-opacity="0.78" stroke-linejoin="round" stroke-linecap="round"/>
<path d="M134.5 134.6V128.3 M144.62 134.6V127.3 M154.74 134.6V126.4 M164.86 134.6V125.5 M174.98 134.6V124.3 M185.1 134.6V123.2 M195.22 134.6V122 M205.34 134.6V120.5 M215.46 134.6V119.1 M225.58 134.6V117.35 M235.7 134.6V115.6 M245.82 134.6V113.7 M255.94 134.6V111.6 M266.06 134.6V109.5 M276.18 134.6V107.4 M286.3 134.6V105 M296.42 134.6V102.75 M306.54 134.6V100.7 M316.66 134.6V98.4 M326.78 134.6V96 M336.9 134.6V94.2 M347.02 134.6V92.85 M357.14 134.6V92.3 M367.26 134.6V92.5 M377.38 134.6V93.6 M387.5 134.6V96 M397.62 134.6V100.1 M407.74 134.6V105.9 M417.86 134.6V114.2 M427.98 134.6V124.9 M438.1 134.6V138.2 M448.22 134.6V154.7 M458.34 134.6V174.5 M468.46 134.6V197.8 M478.58 134.6V226 M488.7 134.6V256.09 M498.82 134.6V302.58" stroke="#9a4267" stroke-width="4.2" fill="none"/>
<circle cx="134.5" cy="128.3" r="6.3" fill="#9a4267"/>
<circle cx="144.62" cy="127.3" r="6.3" fill="#9a4267"/>
<circle cx="154.74" cy="126.4" r="6.3" fill="#9a4267"/>
<circle cx="164.86" cy="125.5" r="6.3" fill="#9a4267"/>
<circle cx="174.98" cy="124.3" r="6.3" fill="#9a4267"/>
<circle cx="185.1" cy="123.2" r="6.3" fill="#9a4267"/>
<circle cx="195.22" cy="122" r="6.3" fill="#9a4267"/>
<circle cx="205.34" cy="120.5" r="6.3" fill="#9a4267"/>
<circle cx="215.46" cy="119.1" r="6.3" fill="#9a4267"/>
<circle cx="225.58" cy="117.35" r="6.3" fill="#9a4267"/>
<circle cx="235.7" cy="115.6" r="6.3" fill="#9a4267"/>
<circle cx="245.82" cy="113.7" r="6.3" fill="#9a4267"/>
<circle cx="255.94" cy="111.6" r="6.3" fill="#9a4267"/>
<circle cx="266.06" cy="109.5" r="6.3" fill="#9a4267"/>
<circle cx="276.18" cy="107.4" r="6.3" fill="#9a4267"/>
<circle cx="286.3" cy="105" r="6.3" fill="#9a4267"/>
<circle cx="296.42" cy="102.75" r="6.3" fill="#9a4267"/>
<circle cx="306.54" cy="100.7" r="6.3" fill="#9a4267"/>
<circle cx="316.66" cy="98.4" r="6.3" fill="#9a4267"/>
<circle cx="326.78" cy="96" r="6.3" fill="#9a4267"/>
<circle cx="336.9" cy="94.2" r="6.3" fill="#9a4267"/>
<circle cx="347.02" cy="92.85" r="6.3" fill="#9a4267"/>
<circle cx="357.14" cy="92.3" r="6.3" fill="#9a4267"/>
<circle cx="367.26" cy="92.5" r="6.3" fill="#9a4267"/>
<circle cx="377.38" cy="93.6" r="6.3" fill="#9a4267"/>
<circle cx="387.5" cy="96" r="6.3" fill="#9a4267"/>
<circle cx="397.62" cy="100.1" r="6.3" fill="#9a4267"/>
<circle cx="407.74" cy="105.9" r="6.3" fill="#9a4267"/>
<circle cx="417.86" cy="114.2" r="6.3" fill="#9a4267"/>
<circle cx="427.98" cy="124.9" r="6.3" fill="#9a4267"/>
<circle cx="438.1" cy="138.2" r="6.3" fill="#9a4267"/>
<circle cx="448.22" cy="154.7" r="6.3" fill="#9a4267"/>
<circle cx="458.34" cy="174.5" r="6.3" fill="#9a4267"/>
<circle cx="468.46" cy="197.8" r="6.3" fill="#9a4267"/>
<circle cx="478.58" cy="226" r="6.3" fill="#9a4267"/>
<circle cx="488.7" cy="256.09" r="6.3" fill="#9a4267"/>
<circle cx="498.82" cy="302.58" r="6.3" fill="#9a4267"/>
</g>
<rect x="124.4" y="69.05" width="353.1" height="161.25" rx="4.5" fill="none" stroke="#262626" stroke-width="4.2" />
<rect x="124.4" y="250.2" width="353.1" height="32.4" rx="4.5" fill="none" stroke="#262626" stroke-width="4.2" />
<rect x="498.3" y="69.05" width="42.1" height="161.25" rx="4.5" fill="#fff" stroke="#262626" stroke-width="4.2" />
<text x="530.5" y="190" font-size="33.5" text-anchor="start" fill="#000" textLength="82" lengthAdjust="spacingAndGlyphs" transform="rotate(-90 530.5 190)" stroke="#000" stroke-width="0.5">Zoom</text>
<rect x="1772.2" y="51.6" width="153.3" height="166" rx="0" fill="#eedae2" stroke="none" stroke-width="0" />
<rect x="1679.4" y="92.8" width="92.8" height="83.2" rx="0" fill="#fff" stroke="none" stroke-width="0" />
<path d="M1772.2 51.6H1925.5V217.6H1772.2Z M1772.2 92.8H1925.5 M1772.2 176H1925.5 M1772.2 92.8H1679.4V176H1772.2 M1679.4 134.6H1772.2" stroke="#000" stroke-width="4.6" fill="none" stroke-linejoin="miter"/>
<text x="1805.2" y="80.4" font-size="34" text-anchor="start" fill="#111" textLength="86" lengthAdjust="spacingAndGlyphs" >gDRT</text>
<text x="1794.5" y="125" font-size="34" text-anchor="start" fill="#111" textLength="109" lengthAdjust="spacingAndGlyphs" >214.9 Ω</text>
<text x="1793.7" y="166.3" font-size="34" text-anchor="start" fill="#111" textLength="110" lengthAdjust="spacingAndGlyphs" >697.9 Ω</text>
<text fill="#111" lengthAdjust="spacingAndGlyphs"><tspan x="1774.8" y="207.5" font-size="35" font-style="italic" textLength="17.5" lengthAdjust="spacingAndGlyphs">λ</tspan><tspan x="1793.8" y="213.3" font-size="24.5" textLength="17.5" lengthAdjust="spacingAndGlyphs">G</tspan><tspan x="1812.6" y="207.5" font-size="34" textLength="25" lengthAdjust="spacingAndGlyphs">=</tspan> <tspan x="1849.3" y="207.5" font-size="34" textLength="73.6" lengthAdjust="spacingAndGlyphs">0.071</tspan></text>
<text x="1685.6" y="120.9" font-size="34" fill="#111" textLength="81" lengthAdjust="spacingAndGlyphs"><tspan font-style="italic">R</tspan><tspan font-size="24" dy="5">0,true</tspan></text>
<text x="1709.5" y="163.8" font-size="34" fill="#111" textLength="33" lengthAdjust="spacingAndGlyphs"><tspan font-style="italic">R</tspan><tspan font-size="24" dy="5">0</tspan></text>
<rect x="1482.5" y="346.1" width="442.9" height="135.2" rx="0" fill="#fff" stroke="#262626" stroke-width="4.3" />
<line x1="1494.8" y1="372.4" x2="1581.9" y2="372.4" stroke="#9a4267" stroke-width="4.5" />
<circle cx="1581.9" cy="372.4" r="6.3" fill="#9a4267"/>
<line x1="1494.8" y1="413.8" x2="1619.2" y2="413.8" stroke="#000" stroke-width="4.4" />
<line x1="1494.8" y1="455.1" x2="1619.2" y2="455.1" stroke="#a6a6a6" stroke-width="6.4" />
<text x="1629" y="380.7" font-size="35" text-anchor="start" fill="#000" textLength="86" lengthAdjust="spacingAndGlyphs" >gDRT</text>
<text x="1629" y="421.7" font-size="35" text-anchor="start" fill="#000" textLength="284" lengthAdjust="spacingAndGlyphs" >Measurement range</text>
<text x="1629" y="462.8" font-size="35" text-anchor="start" fill="#000" textLength="149" lengthAdjust="spacingAndGlyphs" >Analytical</text>
<text x="-0.5" y="32.7" fill="#1a1a1a" textLength="48.9" lengthAdjust="spacingAndGlyphs"><tspan font-size="46" dy="1.3">(</tspan><tspan font-size="39.5" dy="-1.3">a</tspan><tspan font-size="46" dy="1.3">)</tspan></text>
<text x="63.5" y="32.3" font-size="35.3" text-anchor="start" fill="#1a1a1a" textLength="141" lengthAdjust="spacingAndGlyphs" >15.9 MHz</text>
<text x="509" y="32.3" font-size="35.3" text-anchor="middle" fill="#1a1a1a" textLength="144" lengthAdjust="spacingAndGlyphs" >159.2 kHz</text>
<text x="914" y="32.3" font-size="35.3" text-anchor="middle" fill="#1a1a1a" textLength="110" lengthAdjust="spacingAndGlyphs" >1.6 kHz</text>
<text x="1318.5" y="32.3" font-size="35.3" text-anchor="middle" fill="#1a1a1a" textLength="109" lengthAdjust="spacingAndGlyphs" >15.9 Hz</text>
<text x="1723" y="32.3" font-size="35.3" text-anchor="middle" fill="#1a1a1a" textLength="154" lengthAdjust="spacingAndGlyphs" >159.2 mHz</text>
<text x="97.4" y="97.15" font-size="34.3" text-anchor="end" fill="#1a1a1a" >50</text>
<text x="97" y="276.4" font-size="34.3" text-anchor="end" fill="#1a1a1a" >0</text>
<text x="96.8" y="455.35" font-size="34.3" text-anchor="end" fill="#1a1a1a" textLength="45" lengthAdjust="spacingAndGlyphs" >-50</text>
<text fill="#1a1a1a"><tspan x="75.95" y="529.8" font-size="34.5" textLength="31.5" lengthAdjust="spacingAndGlyphs">10</tspan><tspan x="108.65" y="513.5" font-size="28.5" textLength="22.5" lengthAdjust="spacingAndGlyphs">-8</tspan></text>
<text fill="#1a1a1a"><tspan x="480.77" y="529.8" font-size="34.5" textLength="31.5" lengthAdjust="spacingAndGlyphs">10</tspan><tspan x="513.47" y="513.5" font-size="28.5" textLength="22.5" lengthAdjust="spacingAndGlyphs">-6</tspan></text>
<text fill="#1a1a1a"><tspan x="885.59" y="529.8" font-size="34.5" textLength="31.5" lengthAdjust="spacingAndGlyphs">10</tspan><tspan x="918.29" y="513.5" font-size="28.5" textLength="22.5" lengthAdjust="spacingAndGlyphs">-4</tspan></text>
<text fill="#1a1a1a"><tspan x="1290.42" y="529.8" font-size="34.5" textLength="31.5" lengthAdjust="spacingAndGlyphs">10</tspan><tspan x="1323.12" y="513.5" font-size="28.5" textLength="22.5" lengthAdjust="spacingAndGlyphs">-2</tspan></text>
<text fill="#1a1a1a"><tspan x="1699.99" y="529.8" font-size="34.5" textLength="31.5" lengthAdjust="spacingAndGlyphs">10</tspan><tspan x="1732.69" y="513.5" font-size="28.5" textLength="13" lengthAdjust="spacingAndGlyphs">0</tspan></text>
<text transform="translate(975.9 545.9)" fill="#1a1a1a"><tspan x="0" y="0" font-size="31" textLength="14.5" lengthAdjust="spacingAndGlyphs" font-style="italic">τ</tspan><tspan x="15" y="5.5" font-size="22" textLength="11" lengthAdjust="spacingAndGlyphs" font-style="italic">k</tspan> <tspan x="41.1" y="7.5" font-size="46" textLength="13.4" lengthAdjust="spacingAndGlyphs">/</tspan> <tspan x="68" y="0" font-size="34" textLength="12" lengthAdjust="spacingAndGlyphs">s</tspan></text>
<text transform="translate(32.2 335.7) rotate(-90)" fill="#1a1a1a"><tspan x="0" y="0" font-size="35" textLength="22.2" lengthAdjust="spacingAndGlyphs">ϒ</tspan><tspan x="27.1" y="1.2" font-size="38" textLength="9.7" lengthAdjust="spacingAndGlyphs">(</tspan><tspan x="38.2" y="0" font-size="31" textLength="13.5" lengthAdjust="spacingAndGlyphs" font-style="italic">τ</tspan><tspan x="52.8" y="5.5" font-size="22" textLength="11" lengthAdjust="spacingAndGlyphs" font-style="italic">k</tspan><tspan x="66" y="1.2" font-size="38" textLength="9.7" lengthAdjust="spacingAndGlyphs">)</tspan> <tspan x="91.7" y="7.5" font-size="46" textLength="13.2" lengthAdjust="spacingAndGlyphs">/</tspan> <tspan x="118.8" y="0" font-size="33" textLength="21.8" lengthAdjust="spacingAndGlyphs">Ω</tspan></text>
<clipPath id="cb"><rect x="105.6" y="623.5" width="796" height="425.9"/></clipPath>
<g clip-path="url(#cb)">
<line x1="138.41" y1="623.5" x2="138.41" y2="1049.4" stroke="#f0f0f0" stroke-width="4.6" />
<line x1="169.37" y1="623.5" x2="169.37" y2="1049.4" stroke="#f0f0f0" stroke-width="4.6" />
<line x1="200.34" y1="623.5" x2="200.34" y2="1049.4" stroke="#f0f0f0" stroke-width="4.6" />
<line x1="231.3" y1="623.5" x2="231.3" y2="1049.4" stroke="#cccccc" stroke-width="4.6" />
<line x1="262.26" y1="623.5" x2="262.26" y2="1049.4" stroke="#f0f0f0" stroke-width="4.6" />
<line x1="293.23" y1="623.5" x2="293.23" y2="1049.4" stroke="#f0f0f0" stroke-width="4.6" />
<line x1="324.19" y1="623.5" x2="324.19" y2="1049.4" stroke="#f0f0f0" stroke-width="4.6" />
<line x1="355.16" y1="623.5" x2="355.16" y2="1049.4" stroke="#cccccc" stroke-width="4.6" />
<line x1="386.12" y1="623.5" x2="386.12" y2="1049.4" stroke="#f0f0f0" stroke-width="4.6" />
<line x1="417.09" y1="623.5" x2="417.09" y2="1049.4" stroke="#f0f0f0" stroke-width="4.6" />
<line x1="448.06" y1="623.5" x2="448.06" y2="1049.4" stroke="#f0f0f0" stroke-width="4.6" />
<line x1="479.02" y1="623.5" x2="479.02" y2="1049.4" stroke="#cccccc" stroke-width="4.6" />
<line x1="509.99" y1="623.5" x2="509.99" y2="1049.4" stroke="#f0f0f0" stroke-width="4.6" />
<line x1="540.95" y1="623.5" x2="540.95" y2="1049.4" stroke="#f0f0f0" stroke-width="4.6" />
<line x1="571.91" y1="623.5" x2="571.91" y2="1049.4" stroke="#f0f0f0" stroke-width="4.6" />
<line x1="602.88" y1="623.5" x2="602.88" y2="1049.4" stroke="#cccccc" stroke-width="4.6" />
<line x1="633.85" y1="623.5" x2="633.85" y2="1049.4" stroke="#f0f0f0" stroke-width="4.6" />
<line x1="664.81" y1="623.5" x2="664.81" y2="1049.4" stroke="#f0f0f0" stroke-width="4.6" />
<line x1="695.77" y1="623.5" x2="695.77" y2="1049.4" stroke="#f0f0f0" stroke-width="4.6" />
<line x1="726.74" y1="623.5" x2="726.74" y2="1049.4" stroke="#cccccc" stroke-width="4.6" />
<line x1="757.7" y1="623.5" x2="757.7" y2="1049.4" stroke="#f0f0f0" stroke-width="4.6" />
<line x1="788.67" y1="623.5" x2="788.67" y2="1049.4" stroke="#f0f0f0" stroke-width="4.6" />
<line x1="819.63" y1="623.5" x2="819.63" y2="1049.4" stroke="#f0f0f0" stroke-width="4.6" />
<line x1="850.6" y1="623.5" x2="850.6" y2="1049.4" stroke="#cccccc" stroke-width="4.6" />
<line x1="881.57" y1="623.5" x2="881.57" y2="1049.4" stroke="#f0f0f0" stroke-width="4.6" />
<line x1="105.6" y1="655.39" x2="901.6" y2="655.39" stroke="#f0f0f0" stroke-width="4.6" />
<line x1="105.6" y1="686.36" x2="901.6" y2="686.36" stroke="#f0f0f0" stroke-width="4.6" />
<line x1="105.6" y1="717.33" x2="901.6" y2="717.33" stroke="#f0f0f0" stroke-width="4.6" />
<line x1="105.6" y1="779.25" x2="901.6" y2="779.25" stroke="#f0f0f0" stroke-width="4.6" />
<line x1="105.6" y1="810.22" x2="901.6" y2="810.22" stroke="#f0f0f0" stroke-width="4.6" />
<line x1="105.6" y1="841.18" x2="901.6" y2="841.18" stroke="#f0f0f0" stroke-width="4.6" />
<line x1="105.6" y1="903.12" x2="901.6" y2="903.12" stroke="#f0f0f0" stroke-width="4.6" />
<line x1="105.6" y1="934.08" x2="901.6" y2="934.08" stroke="#f0f0f0" stroke-width="4.6" />
<line x1="105.6" y1="965.04" x2="901.6" y2="965.04" stroke="#f0f0f0" stroke-width="4.6" />
<line x1="105.6" y1="1026.97" x2="901.6" y2="1026.97" stroke="#f0f0f0" stroke-width="4.6" />
<line x1="105.6" y1="748.29" x2="901.6" y2="748.29" stroke="#cccccc" stroke-width="4.6" />
<line x1="105.6" y1="872.15" x2="901.6" y2="872.15" stroke="#cccccc" stroke-width="4.6" />
<line x1="105.6" y1="996.01" x2="901.6" y2="996.01" stroke="#cccccc" stroke-width="4.6" />
<polyline points="728.62,833.94 727.4,831.67 726.08,829.27 724.67,826.75 723.15,824.1 721.53,821.32 719.78,818.39 717.91,815.32 715.9,812.1 713.75,808.73 711.44,805.19 708.97,801.48 706.31,797.6 703.46,793.54 700.4,789.29 697.12,784.87 693.59,780.25 689.81,775.44 685.74,770.44 681.37,765.25 676.66,759.88 671.61,754.33 666.17,748.6 660.33,742.72 654.06,736.7 647.33,730.56 640.11,724.33 632.38,718.04 624.12,711.71 615.31,705.41 615.31,705.41 601.52,696.38 586.52,687.62 570.31,679.31 552.93,671.63 534.44,664.75 514.95,658.84 494.62,654.06 473.61,650.54 452.14,648.39 430.43,647.67 408.71,648.4 387.21,650.57 366.16,654.1 345.76,658.91 326.19,664.87 307.6,671.83 290.09,679.62 273.75,688.07 258.61,697 244.68,706.27 231.95,715.72 220.38,725.21 209.91,734.64 200.49,743.91 192.03,752.95 184.46,761.7 177.71,770.12 171.7,778.18 166.37,785.87 161.66,793.18 157.5,800.1 153.83,806.65 150.61,812.84 147.78,818.67 145.3,824.17 143.13,829.36 141.23,834.26 139.56,838.91 138.11,843.34 136.83,847.59 135.72,851.69 134.77,855.69 133.96,859.62 133.3,863.52 132.8,867.43 132.46,871.38 132.31,875.41 132.37,879.53 132.65,883.77 133.18,888.14 133.98,892.67 135.09,897.36 136.51,902.21 138.28,907.25 140.43,912.48 142.99,917.91 146,923.55 149.51,929.39 153.56,935.43 158.24,941.65 163.6,948.01 169.71,954.45 176.63,960.9 184.41,967.24 193.09,973.36 202.66,979.12 213.08,984.35 224.3,988.93 236.21,992.69 248.66,995.54 261.51,997.37 274.56,998.14 287.63,997.82 300.53,996.43 313.08,994.03 325.13,990.7 336.54,986.56 347.21,981.74 357.06,976.37 366.05,970.59 366.05,970.59 373,963.2 374.3,962.18 376.05,960.85 378.13,959.27 380.44,957.49 382.86,955.59 385.28,953.62 387.6,951.63 389.7,949.7 391.65,947.76 393.6,945.72 395.51,943.62 397.39,941.48 399.22,939.32 400.99,937.17 402.69,935.06 404.3,933 405.82,931 407.27,929.02 408.64,927.07 409.96,925.14 411.21,923.21 412.42,921.28 413.58,919.35 414.7,917.4 415.78,915.44 416.8,913.48 417.78,911.52 418.71,909.55 419.59,907.58 420.43,905.62 421.23,903.66 422,901.7 422.73,899.73 423.41,897.75 424.05,895.75 424.64,893.77 425.21,891.8 425.73,889.86 426.23,887.95 426.7,886.1 427.14,884.21 427.56,882.24 427.94,880.26 428.29,878.32 428.61,876.52 428.88,874.9 429.11,873.54 429.3,872.5" fill="none" stroke="#a8a8a8" stroke-width="4.4" stroke-linejoin="round"/>
<polyline points="728.62,833.94 727.4,831.67 726.08,829.27 724.67,826.75 723.15,824.1 721.53,821.32 719.78,818.39 717.91,815.32 715.9,812.1 713.75,808.73 711.44,805.19 708.97,801.48 706.31,797.6 703.46,793.54 700.4,789.29 697.12,784.87 693.59,780.25 689.81,775.44 685.74,770.44 681.37,765.25 676.66,759.88 671.61,754.33 666.17,748.6 660.33,742.72 654.06,736.7 647.33,730.56 640.11,724.33 632.38,718.04 624.12,711.71 615.31,705.41" fill="none" stroke="#9a4267" stroke-width="4.4" stroke-dasharray="10 7.6" stroke-dashoffset="3"/>
<polyline points="366.05,970.59 370.24,967.57 374.21,964.5 377.96,961.39 381.5,958.26 384.82,955.12 387.93,951.99 390.85,948.86 393.57,945.77 396.1,942.7 398.45,939.68 400.62,936.72 402.64,933.81 404.49,930.96 406.19,928.18 407.76,925.48 409.19,922.85 410.49,920.3 411.68,917.83 412.75,915.44 413.73,913.13 414.6,910.91 415.38,908.77 416.08,906.72 416.71,904.75 417.25,902.86 417.74,901.05 418.16,899.32 418.52,897.67 418.83,896.1 419.09,894.6 419.31,893.17 419.49,891.82 419.63,890.53 419.74,889.31 419.82,888.15 419.87,887.06 419.9,886.03 419.9,885.05 419.89,884.13 419.86,883.26 419.81,882.44 419.75,881.67 419.68,880.95 419.6,880.27 419.51,879.63 419.41,879.03 419.31,878.48 419.2,877.96 419.09,877.47 418.98,877.01 418.86,876.59 418.75,876.2 418.63,875.83 418.51,875.49 418.39,875.17 418.28,874.88 418.16,874.61 418.05,874.36 417.94,874.13 417.83,873.92 417.72,873.72 417.62,873.55 417.52,873.38 417.42,873.23 417.32,873.1 417.23,872.97 417.14,872.86 417.06,872.76 416.97,872.66 416.9,872.58 416.82,872.5 416.75,872.44 416.68,872.38 416.62,872.33 416.56,872.28 416.5,872.24 416.44,872.2 416.39,872.17 416.34,872.15 416.3,872.12 416.25,872.1 416.21,872.09 416.18,872.07 416.14,872.06 416.11,872.06 416.08,872.05 416.05,872.04 416.03,872.04 416.01,872.04 415.99,872.04 415.97,872.04 415.95,872.04 415.93,872.04 415.92,872.04 415.91,872.05 415.89,872.05 415.88,872.05 415.87,872.06 415.86,872.06 415.86,872.06 415.85,872.07 415.84,872.07 415.84,872.07 415.83,872.08 415.83,872.08 415.82,872.08 415.82,872.09 415.82,872.09 415.81,872.09 415.81,872.1 415.81,872.1 415.81,872.1 415.81,872.1 415.8,872.11 415.8,872.11 415.8,872.11 415.8,872.11 415.8,872.12 415.8,872.12 415.8,872.12 415.8,872.12 415.8,872.12 415.79,872.12 415.79,872.13 415.79,872.13 415.79,872.13 415.79,872.13 415.79,872.13 415.79,872.13 415.79,872.13 415.79,872.13 415.79,872.13 415.79,872.14 415.79,872.14 415.79,872.14 415.79,872.14 415.79,872.14 415.79,872.14 415.79,872.14 415.79,872.14 415.79,872.14 415.79,872.14 415.79,872.14 415.79,872.14 415.79,872.14 415.79,872.14 415.79,872.14 415.79,872.14 415.79,872.14 415.79,872.14 415.79,872.14 415.79,872.15 415.79,872.15 415.79,872.15 415.79,872.15 415.79,872.15 415.79,872.15 415.79,872.15 415.79,872.15 415.79,872.15 415.79,872.15 415.79,872.15 415.79,872.15 415.79,872.15 415.79,872.15 415.79,872.15 415.79,872.15 415.79,872.15 415.79,872.15 415.79,872.15 415.79,872.15 415.79,872.15 415.79,872.15 415.79,872.15 415.79,872.15 415.79,872.15 415.79,872.15 415.79,872.15 415.79,872.15 415.79,872.15 415.79,872.15 415.79,872.15 415.79,872.15 415.79,872.15 415.79,872.15 415.79,872.15 415.79,872.15 415.79,872.15 415.79,872.15 415.79,872.15 415.79,872.15 415.79,872.15 415.79,872.15 415.79,872.15 415.79,872.15 415.79,872.15 415.79,872.15 415.79,872.15 415.79,872.15" fill="none" stroke="#9a4267" stroke-width="4.5" stroke-dasharray="10 7.6"/>
<path d="M615.31 692.91L624.61 705.41L615.31 717.91L606.01 705.41Z" fill="none" stroke="#9a4267" stroke-width="4.5" stroke-linejoin="miter"/>
<path d="M601.52 683.88L610.82 696.38L601.52 708.88L592.22 696.38Z" fill="none" stroke="#9a4267" stroke-width="4.5" stroke-linejoin="miter"/>
<path d="M586.52 675.12L595.82 687.62L586.52 700.12L577.22 687.62Z" fill="none" stroke="#9a4267" stroke-width="4.5" stroke-linejoin="miter"/>
<path d="M570.31 666.81L579.61 679.31L570.31 691.81L561.01 679.31Z" fill="none" stroke="#9a4267" stroke-width="4.5" stroke-linejoin="miter"/>
<path d="M552.93 659.13L562.23 671.63L552.93 684.13L543.63 671.63Z" fill="none" stroke="#9a4267" stroke-width="4.5" stroke-linejoin="miter"/>
<path d="M534.44 652.25L543.74 664.75L534.44 677.25L525.14 664.75Z" fill="none" stroke="#9a4267" stroke-width="4.5" stroke-linejoin="miter"/>
<path d="M514.95 646.34L524.25 658.84L514.95 671.34L505.65 658.84Z" fill="none" stroke="#9a4267" stroke-width="4.5" stroke-linejoin="miter"/>
<path d="M494.62 641.56L503.92 654.06L494.62 666.56L485.32 654.06Z" fill="none" stroke="#9a4267" stroke-width="4.5" stroke-linejoin="miter"/>
<path d="M473.61 638.04L482.91 650.54L473.61 663.04L464.31 650.54Z" fill="none" stroke="#9a4267" stroke-width="4.5" stroke-linejoin="miter"/>
<path d="M452.14 635.89L461.44 648.39L452.14 660.89L442.84 648.39Z" fill="none" stroke="#9a4267" stroke-width="4.5" stroke-linejoin="miter"/>
<path d="M430.43 635.17L439.73 647.67L430.43 660.17L421.13 647.67Z" fill="none" stroke="#9a4267" stroke-width="4.5" stroke-linejoin="miter"/>
<path d="M408.71 635.9L418.01 648.4L408.71 660.9L399.41 648.4Z" fill="none" stroke="#9a4267" stroke-width="4.5" stroke-linejoin="miter"/>
<path d="M387.21 638.07L396.51 650.57L387.21 663.07L377.91 650.57Z" fill="none" stroke="#9a4267" stroke-width="4.5" stroke-linejoin="miter"/>
<path d="M366.16 641.6L375.46 654.1L366.16 666.6L356.86 654.1Z" fill="none" stroke="#9a4267" stroke-width="4.5" stroke-linejoin="miter"/>
<path d="M345.76 646.41L355.06 658.91L345.76 671.41L336.46 658.91Z" fill="none" stroke="#9a4267" stroke-width="4.5" stroke-linejoin="miter"/>
<path d="M326.19 652.37L335.49 664.87L326.19 677.37L316.89 664.87Z" fill="none" stroke="#9a4267" stroke-width="4.5" stroke-linejoin="miter"/>
<path d="M307.6 659.33L316.9 671.83L307.6 684.33L298.3 671.83Z" fill="none" stroke="#9a4267" stroke-width="4.5" stroke-linejoin="miter"/>
<path d="M290.09 667.12L299.39 679.62L290.09 692.12L280.79 679.62Z" fill="none" stroke="#9a4267" stroke-width="4.5" stroke-linejoin="miter"/>
<path d="M273.75 675.57L283.05 688.07L273.75 700.57L264.45 688.07Z" fill="none" stroke="#9a4267" stroke-width="4.5" stroke-linejoin="miter"/>
<path d="M258.61 684.5L267.91 697L258.61 709.5L249.31 697Z" fill="none" stroke="#9a4267" stroke-width="4.5" stroke-linejoin="miter"/>
<path d="M244.68 693.77L253.98 706.27L244.68 718.77L235.38 706.27Z" fill="none" stroke="#9a4267" stroke-width="4.5" stroke-linejoin="miter"/>
<path d="M231.95 703.22L241.25 715.72L231.95 728.22L222.65 715.72Z" fill="none" stroke="#9a4267" stroke-width="4.5" stroke-linejoin="miter"/>
<path d="M220.38 712.71L229.68 725.21L220.38 737.71L211.08 725.21Z" fill="none" stroke="#9a4267" stroke-width="4.5" stroke-linejoin="miter"/>
<path d="M209.91 722.14L219.21 734.64L209.91 747.14L200.61 734.64Z" fill="none" stroke="#9a4267" stroke-width="4.5" stroke-linejoin="miter"/>
<path d="M200.49 731.41L209.79 743.91L200.49 756.41L191.19 743.91Z" fill="none" stroke="#9a4267" stroke-width="4.5" stroke-linejoin="miter"/>
<path d="M192.03 740.45L201.33 752.95L192.03 765.45L182.73 752.95Z" fill="none" stroke="#9a4267" stroke-width="4.5" stroke-linejoin="miter"/>
<path d="M184.46 749.2L193.76 761.7L184.46 774.2L175.16 761.7Z" fill="none" stroke="#9a4267" stroke-width="4.5" stroke-linejoin="miter"/>
<path d="M177.71 757.62L187.01 770.12L177.71 782.62L168.41 770.12Z" fill="none" stroke="#9a4267" stroke-width="4.5" stroke-linejoin="miter"/>
<path d="M171.7 765.68L181 778.18L171.7 790.68L162.4 778.18Z" fill="none" stroke="#9a4267" stroke-width="4.5" stroke-linejoin="miter"/>
<path d="M166.37 773.37L175.67 785.87L166.37 798.37L157.07 785.87Z" fill="none" stroke="#9a4267" stroke-width="4.5" stroke-linejoin="miter"/>
<path d="M161.66 780.68L170.96 793.18L161.66 805.68L152.36 793.18Z" fill="none" stroke="#9a4267" stroke-width="4.5" stroke-linejoin="miter"/>
<path d="M157.5 787.6L166.8 800.1L157.5 812.6L148.2 800.1Z" fill="none" stroke="#9a4267" stroke-width="4.5" stroke-linejoin="miter"/>
<path d="M153.83 794.15L163.13 806.65L153.83 819.15L144.53 806.65Z" fill="none" stroke="#9a4267" stroke-width="4.5" stroke-linejoin="miter"/>
<path d="M150.61 800.34L159.91 812.84L150.61 825.34L141.31 812.84Z" fill="none" stroke="#9a4267" stroke-width="4.5" stroke-linejoin="miter"/>
<path d="M147.78 806.17L157.08 818.67L147.78 831.17L138.48 818.67Z" fill="none" stroke="#9a4267" stroke-width="4.5" stroke-linejoin="miter"/>
<path d="M145.3 811.67L154.6 824.17L145.3 836.67L136 824.17Z" fill="none" stroke="#9a4267" stroke-width="4.5" stroke-linejoin="miter"/>
<path d="M143.13 816.86L152.43 829.36L143.13 841.86L133.83 829.36Z" fill="none" stroke="#9a4267" stroke-width="4.5" stroke-linejoin="miter"/>
<path d="M141.23 821.76L150.53 834.26L141.23 846.76L131.93 834.26Z" fill="none" stroke="#9a4267" stroke-width="4.5" stroke-linejoin="miter"/>
<path d="M139.56 826.41L148.86 838.91L139.56 851.41L130.26 838.91Z" fill="none" stroke="#9a4267" stroke-width="4.5" stroke-linejoin="miter"/>
<path d="M138.11 830.84L147.41 843.34L138.11 855.84L128.81 843.34Z" fill="none" stroke="#9a4267" stroke-width="4.5" stroke-linejoin="miter"/>
<path d="M136.83 835.09L146.13 847.59L136.83 860.09L127.53 847.59Z" fill="none" stroke="#9a4267" stroke-width="4.5" stroke-linejoin="miter"/>
<path d="M135.72 839.19L145.02 851.69L135.72 864.19L126.42 851.69Z" fill="none" stroke="#9a4267" stroke-width="4.5" stroke-linejoin="miter"/>
<path d="M134.77 843.19L144.07 855.69L134.77 868.19L125.47 855.69Z" fill="none" stroke="#9a4267" stroke-width="4.5" stroke-linejoin="miter"/>
<path d="M133.96 847.12L143.26 859.62L133.96 872.12L124.66 859.62Z" fill="none" stroke="#9a4267" stroke-width="4.5" stroke-linejoin="miter"/>
<path d="M133.3 851.02L142.6 863.52L133.3 876.02L124 863.52Z" fill="none" stroke="#9a4267" stroke-width="4.5" stroke-linejoin="miter"/>
<path d="M132.8 854.93L142.1 867.43L132.8 879.93L123.5 867.43Z" fill="none" stroke="#9a4267" stroke-width="4.5" stroke-linejoin="miter"/>
<path d="M132.46 858.88L141.76 871.38L132.46 883.88L123.16 871.38Z" fill="none" stroke="#9a4267" stroke-width="4.5" stroke-linejoin="miter"/>
<path d="M132.31 862.91L141.61 875.41L132.31 887.91L123.01 875.41Z" fill="none" stroke="#9a4267" stroke-width="4.5" stroke-linejoin="miter"/>
<path d="M132.37 867.03L141.67 879.53L132.37 892.03L123.07 879.53Z" fill="none" stroke="#9a4267" stroke-width="4.5" stroke-linejoin="miter"/>
<path d="M132.65 871.27L141.95 883.77L132.65 896.27L123.35 883.77Z" fill="none" stroke="#9a4267" stroke-width="4.5" stroke-linejoin="miter"/>
<path d="M133.18 875.64L142.48 888.14L133.18 900.64L123.88 888.14Z" fill="none" stroke="#9a4267" stroke-width="4.5" stroke-linejoin="miter"/>
<path d="M133.98 880.17L143.28 892.67L133.98 905.17L124.68 892.67Z" fill="none" stroke="#9a4267" stroke-width="4.5" stroke-linejoin="miter"/>
<path d="M135.09 884.86L144.39 897.36L135.09 909.86L125.79 897.36Z" fill="none" stroke="#9a4267" stroke-width="4.5" stroke-linejoin="miter"/>
<path d="M136.51 889.71L145.81 902.21L136.51 914.71L127.21 902.21Z" fill="none" stroke="#9a4267" stroke-width="4.5" stroke-linejoin="miter"/>
<path d="M138.28 894.75L147.58 907.25L138.28 919.75L128.98 907.25Z" fill="none" stroke="#9a4267" stroke-width="4.5" stroke-linejoin="miter"/>
<path d="M140.43 899.98L149.73 912.48L140.43 924.98L131.13 912.48Z" fill="none" stroke="#9a4267" stroke-width="4.5" stroke-linejoin="miter"/>
<path d="M142.99 905.41L152.29 917.91L142.99 930.41L133.69 917.91Z" fill="none" stroke="#9a4267" stroke-width="4.5" stroke-linejoin="miter"/>
<path d="M146 911.05L155.3 923.55L146 936.05L136.7 923.55Z" fill="none" stroke="#9a4267" stroke-width="4.5" stroke-linejoin="miter"/>
<path d="M149.51 916.89L158.81 929.39L149.51 941.89L140.21 929.39Z" fill="none" stroke="#9a4267" stroke-width="4.5" stroke-linejoin="miter"/>
<path d="M153.56 922.93L162.86 935.43L153.56 947.93L144.26 935.43Z" fill="none" stroke="#9a4267" stroke-width="4.5" stroke-linejoin="miter"/>
<path d="M158.24 929.15L167.54 941.65L158.24 954.15L148.94 941.65Z" fill="none" stroke="#9a4267" stroke-width="4.5" stroke-linejoin="miter"/>
<path d="M163.6 935.51L172.9 948.01L163.6 960.51L154.3 948.01Z" fill="none" stroke="#9a4267" stroke-width="4.5" stroke-linejoin="miter"/>
<path d="M169.71 941.95L179.01 954.45L169.71 966.95L160.41 954.45Z" fill="none" stroke="#9a4267" stroke-width="4.5" stroke-linejoin="miter"/>
<path d="M176.63 948.4L185.93 960.9L176.63 973.4L167.33 960.9Z" fill="none" stroke="#9a4267" stroke-width="4.5" stroke-linejoin="miter"/>
<path d="M184.41 954.74L193.71 967.24L184.41 979.74L175.11 967.24Z" fill="none" stroke="#9a4267" stroke-width="4.5" stroke-linejoin="miter"/>
<path d="M193.09 960.86L202.39 973.36L193.09 985.86L183.79 973.36Z" fill="none" stroke="#9a4267" stroke-width="4.5" stroke-linejoin="miter"/>
<path d="M202.66 966.62L211.96 979.12L202.66 991.62L193.36 979.12Z" fill="none" stroke="#9a4267" stroke-width="4.5" stroke-linejoin="miter"/>
<path d="M213.08 971.85L222.38 984.35L213.08 996.85L203.78 984.35Z" fill="none" stroke="#9a4267" stroke-width="4.5" stroke-linejoin="miter"/>
<path d="M224.3 976.43L233.6 988.93L224.3 1001.43L215 988.93Z" fill="none" stroke="#9a4267" stroke-width="4.5" stroke-linejoin="miter"/>
<path d="M236.21 980.19L245.51 992.69L236.21 1005.19L226.91 992.69Z" fill="none" stroke="#9a4267" stroke-width="4.5" stroke-linejoin="miter"/>
<path d="M248.66 983.04L257.96 995.54L248.66 1008.04L239.36 995.54Z" fill="none" stroke="#9a4267" stroke-width="4.5" stroke-linejoin="miter"/>
<path d="M261.51 984.87L270.81 997.37L261.51 1009.87L252.21 997.37Z" fill="none" stroke="#9a4267" stroke-width="4.5" stroke-linejoin="miter"/>
<path d="M274.56 985.64L283.86 998.14L274.56 1010.64L265.26 998.14Z" fill="none" stroke="#9a4267" stroke-width="4.5" stroke-linejoin="miter"/>
<path d="M287.63 985.32L296.93 997.82L287.63 1010.32L278.33 997.82Z" fill="none" stroke="#9a4267" stroke-width="4.5" stroke-linejoin="miter"/>
<path d="M300.53 983.93L309.83 996.43L300.53 1008.93L291.23 996.43Z" fill="none" stroke="#9a4267" stroke-width="4.5" stroke-linejoin="miter"/>
<path d="M313.08 981.53L322.38 994.03L313.08 1006.53L303.78 994.03Z" fill="none" stroke="#9a4267" stroke-width="4.5" stroke-linejoin="miter"/>
<path d="M325.13 978.2L334.43 990.7L325.13 1003.2L315.83 990.7Z" fill="none" stroke="#9a4267" stroke-width="4.5" stroke-linejoin="miter"/>
<path d="M336.54 974.06L345.84 986.56L336.54 999.06L327.24 986.56Z" fill="none" stroke="#9a4267" stroke-width="4.5" stroke-linejoin="miter"/>
<path d="M347.21 969.24L356.51 981.74L347.21 994.24L337.91 981.74Z" fill="none" stroke="#9a4267" stroke-width="4.5" stroke-linejoin="miter"/>
<path d="M357.06 963.87L366.36 976.37L357.06 988.87L347.76 976.37Z" fill="none" stroke="#9a4267" stroke-width="4.5" stroke-linejoin="miter"/>
<path d="M366.05 958.09L375.35 970.59L366.05 983.09L356.75 970.59Z" fill="none" stroke="#9a4267" stroke-width="4.5" stroke-linejoin="miter"/>
<circle cx="615.71" cy="704.93" r="6.9" fill="#00698e"/>
<circle cx="600.14" cy="696.93" r="6.9" fill="#00698e"/>
<circle cx="587.16" cy="687.59" r="6.9" fill="#00698e"/>
<circle cx="570.58" cy="679.38" r="6.9" fill="#00698e"/>
<circle cx="553.16" cy="671.49" r="6.9" fill="#00698e"/>
<circle cx="534.56" cy="664.56" r="6.9" fill="#00698e"/>
<circle cx="514.46" cy="659.04" r="6.9" fill="#00698e"/>
<circle cx="495.06" cy="654.97" r="6.9" fill="#00698e"/>
<circle cx="473.5" cy="649.87" r="6.9" fill="#00698e"/>
<circle cx="451.83" cy="647.54" r="6.9" fill="#00698e"/>
<circle cx="431.09" cy="646.47" r="6.9" fill="#00698e"/>
<circle cx="409.05" cy="649.36" r="6.9" fill="#00698e"/>
<circle cx="386.62" cy="651" r="6.9" fill="#00698e"/>
<circle cx="366.41" cy="653.63" r="6.9" fill="#00698e"/>
<circle cx="345.06" cy="658.68" r="6.9" fill="#00698e"/>
<circle cx="326.85" cy="665.26" r="6.9" fill="#00698e"/>
<circle cx="308.64" cy="672.29" r="6.9" fill="#00698e"/>
<circle cx="290.3" cy="678.86" r="6.9" fill="#00698e"/>
<circle cx="274.46" cy="689.66" r="6.9" fill="#00698e"/>
<circle cx="256.99" cy="697.64" r="6.9" fill="#00698e"/>
<circle cx="244.93" cy="705.41" r="6.9" fill="#00698e"/>
<circle cx="231.46" cy="716.35" r="6.9" fill="#00698e"/>
<circle cx="220.55" cy="725.72" r="6.9" fill="#00698e"/>
<circle cx="209.6" cy="734.83" r="6.9" fill="#00698e"/>
<circle cx="199.88" cy="743.84" r="6.9" fill="#00698e"/>
<circle cx="192.49" cy="752.36" r="6.9" fill="#00698e"/>
<circle cx="184.24" cy="762.76" r="6.9" fill="#00698e"/>
<circle cx="176.71" cy="770.15" r="6.9" fill="#00698e"/>
<circle cx="171.25" cy="777.42" r="6.9" fill="#00698e"/>
<circle cx="166.3" cy="784.68" r="6.9" fill="#00698e"/>
<circle cx="161.68" cy="794.39" r="6.9" fill="#00698e"/>
<circle cx="156.86" cy="799.32" r="6.9" fill="#00698e"/>
<circle cx="154.15" cy="806.35" r="6.9" fill="#00698e"/>
<circle cx="150.43" cy="812.49" r="6.9" fill="#00698e"/>
<circle cx="147.57" cy="819.15" r="6.9" fill="#00698e"/>
<circle cx="144.7" cy="824.22" r="6.9" fill="#00698e"/>
<circle cx="144.2" cy="828.12" r="6.9" fill="#00698e"/>
<circle cx="141.09" cy="834.17" r="6.9" fill="#00698e"/>
<circle cx="138.57" cy="838.71" r="6.9" fill="#00698e"/>
<circle cx="138.22" cy="843.43" r="6.9" fill="#00698e"/>
<circle cx="137.29" cy="847.89" r="6.9" fill="#00698e"/>
<circle cx="135.13" cy="850.88" r="6.9" fill="#00698e"/>
<circle cx="136.31" cy="855.31" r="6.9" fill="#00698e"/>
<circle cx="133.23" cy="858.7" r="6.9" fill="#00698e"/>
<circle cx="133.08" cy="863.67" r="6.9" fill="#00698e"/>
<circle cx="132.35" cy="867.67" r="6.9" fill="#00698e"/>
<circle cx="132.25" cy="871.17" r="6.9" fill="#00698e"/>
<circle cx="132.96" cy="874.51" r="6.9" fill="#00698e"/>
<circle cx="132.59" cy="879.32" r="6.9" fill="#00698e"/>
<circle cx="134.31" cy="883.56" r="6.9" fill="#00698e"/>
<circle cx="133.48" cy="888.09" r="6.9" fill="#00698e"/>
<circle cx="132.62" cy="892.82" r="6.9" fill="#00698e"/>
<circle cx="135.02" cy="897.63" r="6.9" fill="#00698e"/>
<circle cx="137.6" cy="902.75" r="6.9" fill="#00698e"/>
<circle cx="138.46" cy="907.79" r="6.9" fill="#00698e"/>
<circle cx="139.19" cy="911.53" r="6.9" fill="#00698e"/>
<circle cx="142.56" cy="917.5" r="6.9" fill="#00698e"/>
<circle cx="144.45" cy="923.62" r="6.9" fill="#00698e"/>
<circle cx="151.41" cy="928.81" r="6.9" fill="#00698e"/>
<circle cx="154.49" cy="936.61" r="6.9" fill="#00698e"/>
<circle cx="158.97" cy="940.89" r="6.9" fill="#00698e"/>
<circle cx="163.76" cy="948.19" r="6.9" fill="#00698e"/>
<circle cx="170.21" cy="955" r="6.9" fill="#00698e"/>
<circle cx="175.16" cy="961.57" r="6.9" fill="#00698e"/>
<circle cx="183.94" cy="965.96" r="6.9" fill="#00698e"/>
<circle cx="193.12" cy="973.06" r="6.9" fill="#00698e"/>
<circle cx="202.24" cy="979.51" r="6.9" fill="#00698e"/>
<circle cx="211.32" cy="984.39" r="6.9" fill="#00698e"/>
<circle cx="225.75" cy="987.44" r="6.9" fill="#00698e"/>
<circle cx="236.18" cy="992.79" r="6.9" fill="#00698e"/>
<circle cx="248.87" cy="996.29" r="6.9" fill="#00698e"/>
<circle cx="261.37" cy="996.37" r="6.9" fill="#00698e"/>
<circle cx="274.33" cy="998.03" r="6.9" fill="#00698e"/>
<circle cx="287.82" cy="997.33" r="6.9" fill="#00698e"/>
<circle cx="302.27" cy="996.61" r="6.9" fill="#00698e"/>
<circle cx="313.64" cy="994.49" r="6.9" fill="#00698e"/>
<circle cx="325.18" cy="990.56" r="6.9" fill="#00698e"/>
<circle cx="335.9" cy="987.1" r="6.9" fill="#00698e"/>
<circle cx="347.78" cy="981.67" r="6.9" fill="#00698e"/>
<circle cx="356.53" cy="975.84" r="6.9" fill="#00698e"/>
<circle cx="366.02" cy="971.1" r="6.9" fill="#00698e"/>
<line x1="631.7" y1="681.7" x2="593.6" y2="737.5" stroke="#000" stroke-width="4.6" stroke-linecap="round"/>
<line x1="348.4" y1="939.4" x2="384.2" y2="997.8" stroke="#000" stroke-width="4.6" stroke-linecap="round"/>
</g>
<line x1="559.7" y1="743.2" x2="588.96" y2="723.32" stroke="#262626" stroke-width="5" stroke-linecap="round"/>
<polygon points="599.3,716.3 590.82,729.62 590.3,722.41 583.79,719.28" fill="#262626"/>
<line x1="311.5" y1="933.5" x2="343.31" y2="954.75" stroke="#262626" stroke-width="5" stroke-linecap="round"/>
<polygon points="353.7,961.7 338.17,958.84 344.66,955.66 345.12,948.45" fill="#262626"/>
<line x1="365.2" y1="865.2" x2="397.99" y2="886.98" stroke="#262626" stroke-width="5" stroke-linecap="round"/>
<polygon points="408.4,893.9 392.86,891.08 399.34,887.88 399.78,880.67" fill="#262626"/>
<text x="515.5" y="780.2" font-size="33.5" text-anchor="start" fill="#1a1a1a" textLength="82" lengthAdjust="spacingAndGlyphs" >10 Hz</text>
<text x="225" y="924.5" font-size="33.5" text-anchor="start" fill="#1a1a1a" textLength="116.5" lengthAdjust="spacingAndGlyphs" >100 kHz</text>
<text x="307.4" y="852.2" font-size="33.5" text-anchor="start" fill="#1a1a1a" textLength="94.5" lengthAdjust="spacingAndGlyphs" >1 MHz</text>
<rect x="403.2" y="860.6" width="20.8" height="23.1" rx="6" fill="none" stroke="#262626" stroke-width="4.3" />
<rect x="462.5" y="841.4" width="356.9" height="185.1" rx="4.5" fill="#fff" stroke="none" stroke-width="0" />
<clipPath id="cbi"><rect x="462.5" y="841.4" width="356.9" height="185.1" rx="4.5"/></clipPath>
<g clip-path="url(#cbi)">
<line x1="484" y1="841.4" x2="484" y2="1026.5" stroke="#f0f0f0" stroke-width="4.6" />
<line x1="535.7" y1="841.4" x2="535.7" y2="1026.5" stroke="#f0f0f0" stroke-width="4.6" />
<line x1="588.9" y1="841.4" x2="588.9" y2="1026.5" stroke="#f0f0f0" stroke-width="4.6" />
<line x1="640.7" y1="841.4" x2="640.7" y2="1026.5" stroke="#f0f0f0" stroke-width="4.6" />
<line x1="695.1" y1="841.4" x2="695.1" y2="1026.5" stroke="#f0f0f0" stroke-width="4.6" />
<line x1="749.4" y1="841.4" x2="749.4" y2="1026.5" stroke="#f0f0f0" stroke-width="4.6" />
<line x1="801.3" y1="841.4" x2="801.3" y2="1026.5" stroke="#f0f0f0" stroke-width="4.6" />
<line x1="462.5" y1="854.4" x2="819.4" y2="854.4" stroke="#f0f0f0" stroke-width="4.6" />
<line x1="462.5" y1="961.1" x2="819.4" y2="961.1" stroke="#f0f0f0" stroke-width="4.6" />
<line x1="462.5" y1="1014.2" x2="819.4" y2="1014.2" stroke="#f0f0f0" stroke-width="4.6" />
<line x1="462.5" y1="907.9" x2="819.4" y2="907.9" stroke="#cccccc" stroke-width="4.6" />
<polyline points="476.5,907.6 476.76,906.54 477.03,905.13 477.35,903.45 477.75,901.58 478.25,899.62 478.89,897.64 479.7,895.74 480.7,894 481.94,892.35 483.42,890.66 485.07,888.98 486.85,887.33 488.71,885.72 490.61,884.2 492.49,882.78 494.3,881.5 496.06,880.36 497.83,879.32 499.61,878.39 501.41,877.54 503.23,876.77 505.08,876.04 506.97,875.36 508.9,874.7 510.89,874.08 512.93,873.53 515.01,873.04 517.12,872.59 519.25,872.18 521.38,871.8 523.5,871.44 525.6,871.1 527.68,870.78 529.75,870.48 531.83,870.21 533.9,869.96 535.97,869.75 538.05,869.57 540.12,869.42 542.2,869.3 544.28,869.22 546.37,869.18 548.46,869.17 550.54,869.19 552.63,869.23 554.72,869.3 556.81,869.39 558.9,869.5 560.98,869.62 563.04,869.77 565.09,869.94 567.14,870.14 569.21,870.35 571.31,870.58 573.43,870.83 575.6,871.1 577.82,871.38 580.1,871.68 582.41,872 584.74,872.33 587.08,872.69 589.41,873.07 591.72,873.47 594,873.9 596.19,874.34 598.3,874.78 600.35,875.23 602.42,875.71 604.54,876.23 606.76,876.81 609.13,877.46 611.7,878.2 614.5,879.03 617.49,879.95 620.64,880.94 623.88,881.98 627.19,883.07 630.5,884.2 633.79,885.34 637,886.5 640.15,887.68 643.3,888.89 646.45,890.14 649.6,891.41 652.75,892.71 655.9,894.03 659.05,895.36 662.2,896.7 665.36,898.04 668.52,899.39 671.68,900.74 674.84,902.12 678.01,903.52 681.17,904.97 684.34,906.46 687.5,908 690.66,909.6 693.83,911.26 696.99,912.96 700.16,914.71 703.32,916.48 706.48,918.27 709.64,920.08 712.8,921.9 715.95,923.72 719.1,925.55 722.25,927.39 725.4,929.26 728.55,931.16 731.7,933.09 734.85,935.07 738,937.1 741.16,939.19 744.32,941.35 747.48,943.55 750.64,945.79 753.81,948.05 756.97,950.32 760.14,952.57 763.3,954.8 766.46,957 769.62,959.17 772.79,961.33 775.95,963.49 779.11,965.68 782.27,967.9 785.44,970.17 788.6,972.5 791.94,975.04 795.52,977.85 799.2,980.78 802.83,983.71 806.27,986.49 809.35,989.01 811.95,991.12 813.9,992.7" fill="none" stroke="#9a4267" stroke-width="4.5" stroke-dasharray="10 7.6"/>
</g>
<rect x="462.5" y="841.4" width="356.9" height="185.1" rx="4.5" fill="none" stroke="#262626" stroke-width="4.3" />
<line x1="509.3" y1="954.8" x2="487.76" y2="926.45" stroke="#262626" stroke-width="5" stroke-linecap="round"/>
<polygon points="480.2,916.5 493.95,924.26 486.78,925.16 484,931.83" fill="#262626"/>
<line x1="740.6" y1="885.3" x2="708.71" y2="901.77" stroke="#262626" stroke-width="5" stroke-linecap="round"/>
<polygon points="697.6,907.5 707.62,895.29 707.26,902.51 713.35,906.4" fill="#262626"/>
<text x="472.6" y="989.7" font-size="33.5" text-anchor="start" fill="#1a1a1a" textLength="108" lengthAdjust="spacingAndGlyphs" >10 GHz</text>
<text x="693.8" y="876.4" font-size="33.5" text-anchor="start" fill="#1a1a1a" textLength="111" lengthAdjust="spacingAndGlyphs" >10 MHz</text>
<rect x="841.5" y="841.4" width="41.3" height="185.1" rx="4.5" fill="#fff" stroke="#262626" stroke-width="4.3" />
<text x="874.3" y="978.5" font-size="33.5" text-anchor="start" fill="#000" textLength="81" lengthAdjust="spacingAndGlyphs" transform="rotate(-90 874.3 978.5)" stroke="#000" stroke-width="0.5">Zoom</text>
<path d="M107.44 1049.4v-10.4M107.44 623.5v10.4M231.3 1049.4v-10.4M231.3 623.5v10.4M355.16 1049.4v-10.4M355.16 623.5v10.4M479.02 1049.4v-10.4M479.02 623.5v10.4M602.88 1049.4v-10.4M602.88 623.5v10.4M726.74 1049.4v-10.4M726.74 623.5v10.4M850.6 1049.4v-10.4M850.6 623.5v10.4M105.6 624.43h10.4M901.6 624.43h-10.4M105.6 748.29h10.4M901.6 748.29h-10.4M105.6 872.15h10.4M901.6 872.15h-10.4M105.6 996.01h10.4M901.6 996.01h-10.4" stroke="#262626" stroke-width="4.2" fill="none"/>
<rect x="105.6" y="623.5" width="796" height="425.9" rx="0" fill="none" stroke="#262626" stroke-width="4.5" />
<rect x="647.1" y="623.5" width="254.5" height="180.8" rx="0" fill="#fff" stroke="none" stroke-width="0" />
<clipPath id="cbl"><rect x="647.1" y="623.5" width="254.5" height="180.8"/></clipPath>
<g clip-path="url(#cbl)" opacity="0.25">
<polyline points="728.62,833.94 727.4,831.67 726.08,829.27 724.67,826.75 723.15,824.1 721.53,821.32 719.78,818.39 717.91,815.32 715.9,812.1 713.75,808.73 711.44,805.19 708.97,801.48 706.31,797.6 703.46,793.54 700.4,789.29 697.12,784.87 693.59,780.25 689.81,775.44 685.74,770.44 681.37,765.25 676.66,759.88 671.61,754.33 666.17,748.6 660.33,742.72 654.06,736.7 647.33,730.56 640.11,724.33 632.38,718.04 624.12,711.71 615.31,705.41" fill="none" stroke="#a8a8a8" stroke-width="4.4" />
<polyline points="728.62,833.94 727.4,831.67 726.08,829.27 724.67,826.75 723.15,824.1 721.53,821.32 719.78,818.39 717.91,815.32 715.9,812.1 713.75,808.73 711.44,805.19 708.97,801.48 706.31,797.6 703.46,793.54 700.4,789.29 697.12,784.87 693.59,780.25 689.81,775.44 685.74,770.44 681.37,765.25 676.66,759.88 671.61,754.33 666.17,748.6 660.33,742.72 654.06,736.7 647.33,730.56 640.11,724.33 632.38,718.04 624.12,711.71 615.31,705.41" fill="none" stroke="#9a4267" stroke-width="4.5" stroke-dasharray="10 7.6" stroke-dashoffset="3"/>
</g>
<rect x="647.1" y="623.5" width="254.5" height="180.8" rx="0" fill="none" stroke="#262626" stroke-width="4.5" />
<path d="M698.1 637.4L710.7 654.4L698.1 671.4L685.5 654.4Z" fill="none" stroke="#9a4267" stroke-width="4.3"/>
<line x1="664" y1="694.2" x2="723" y2="694.2" stroke="#9a4267" stroke-width="4.5" stroke-dasharray="8.35 8.35"/>
<circle cx="698.1" cy="736.3" r="14.6" fill="#00698e"/>
<line x1="664.1" y1="777.9" x2="733.4" y2="777.9" stroke="#a6a6a6" stroke-width="4.4" />
<text x="744.7" y="663.2" font-size="33.5" text-anchor="start" fill="#000" textLength="86" lengthAdjust="spacingAndGlyphs" >gDRT</text>
<text x="744.7" y="702.3" font-size="33.5" text-anchor="start" fill="#000" textLength="108" lengthAdjust="spacingAndGlyphs" >Extrap.</text>
<text x="744.7" y="744.4" font-size="33.5" text-anchor="start" fill="#000" textLength="81" lengthAdjust="spacingAndGlyphs" >Meas.</text>
<text x="744.7" y="785.9" font-size="33.5" text-anchor="start" fill="#000" textLength="148" lengthAdjust="spacingAndGlyphs" >Analytical</text>
<text x="-0.8" y="609.6" fill="#1a1a1a" textLength="50.4" lengthAdjust="spacingAndGlyphs"><tspan font-size="46" dy="1.3">(</tspan><tspan font-size="39.5" dy="-1.3">b</tspan><tspan font-size="46" dy="1.3">)</tspan></text>
<text x="107.44" y="1091.5" font-size="34.3" text-anchor="middle" fill="#1a1a1a" >200</text>
<text x="231.3" y="1091.5" font-size="34.3" text-anchor="middle" fill="#1a1a1a" >400</text>
<text x="355.16" y="1091.5" font-size="34.3" text-anchor="middle" fill="#1a1a1a" >600</text>
<text x="479.02" y="1091.5" font-size="34.3" text-anchor="middle" fill="#1a1a1a" >800</text>
<text x="602.88" y="1091.5" font-size="34.3" text-anchor="middle" fill="#1a1a1a" >1000</text>
<text x="726.74" y="1091.5" font-size="34.3" text-anchor="middle" fill="#1a1a1a" >1200</text>
<text x="850.6" y="1091.5" font-size="34.3" text-anchor="middle" fill="#1a1a1a" >1400</text>
<text x="97.3" y="636.5" font-size="34.3" text-anchor="end" fill="#1a1a1a" >-400</text>
<text x="97.3" y="759.5" font-size="34.3" text-anchor="end" fill="#1a1a1a" >-200</text>
<text x="97.3" y="883.8" font-size="34.3" text-anchor="end" fill="#1a1a1a" >0</text>
<text x="97.3" y="1007.6" font-size="34.3" text-anchor="end" fill="#1a1a1a" >200</text>
<text transform="translate(418.8 1131.2)" fill="#1a1a1a"><tspan x="0" y="0" font-size="33.5" textLength="36.5" lengthAdjust="spacingAndGlyphs">Re</tspan><tspan x="37.5" y="1.2" font-size="38" textLength="9.7" lengthAdjust="spacingAndGlyphs">(</tspan><tspan x="49.5" y="0" font-size="33.5" textLength="23" lengthAdjust="spacingAndGlyphs" font-style="italic">Z</tspan><tspan x="76.5" y="1.2" font-size="38" textLength="9.7" lengthAdjust="spacingAndGlyphs">)</tspan> <tspan x="102.5" y="7.5" font-size="46" textLength="12.6" lengthAdjust="spacingAndGlyphs">/</tspan> <tspan x="129.3" y="0" font-size="33.5" textLength="38.8" lengthAdjust="spacingAndGlyphs">kΩ</tspan></text>
<text transform="translate(31.8 920) rotate(-90)" fill="#1a1a1a"><tspan x="0" y="0" font-size="33.5" textLength="36" lengthAdjust="spacingAndGlyphs">Im</tspan><tspan x="37" y="1.2" font-size="38" textLength="9.7" lengthAdjust="spacingAndGlyphs">(</tspan><tspan x="49" y="0" font-size="33.5" textLength="23" lengthAdjust="spacingAndGlyphs" font-style="italic">Z</tspan><tspan x="75.5" y="1.2" font-size="38" textLength="9.7" lengthAdjust="spacingAndGlyphs">)</tspan> <tspan x="102.5" y="7.5" font-size="46" textLength="12.4" lengthAdjust="spacingAndGlyphs">/</tspan> <tspan x="129.4" y="0" font-size="33.5" textLength="38.2" lengthAdjust="spacingAndGlyphs">kΩ</tspan></text>
<clipPath id="cc"><rect x="1089.5" y="622.9" width="838.9" height="426.8"/></clipPath>
<g clip-path="url(#cc)">
<line x1="1152.6" y1="622.9" x2="1152.6" y2="1049.7" stroke="#f0f0f0" stroke-width="4.6" />
<line x1="1189.5" y1="622.9" x2="1189.5" y2="1049.7" stroke="#f0f0f0" stroke-width="4.6" />
<line x1="1215.69" y1="622.9" x2="1215.69" y2="1049.7" stroke="#f0f0f0" stroke-width="4.6" />
<line x1="1236" y1="622.9" x2="1236" y2="1049.7" stroke="#f0f0f0" stroke-width="4.6" />
<line x1="1252.6" y1="622.9" x2="1252.6" y2="1049.7" stroke="#f0f0f0" stroke-width="4.6" />
<line x1="1266.63" y1="622.9" x2="1266.63" y2="1049.7" stroke="#f0f0f0" stroke-width="4.6" />
<line x1="1278.79" y1="622.9" x2="1278.79" y2="1049.7" stroke="#f0f0f0" stroke-width="4.6" />
<line x1="1289.51" y1="622.9" x2="1289.51" y2="1049.7" stroke="#f0f0f0" stroke-width="4.6" />
<line x1="1299.1" y1="622.9" x2="1299.1" y2="1049.7" stroke="#cccccc" stroke-width="4.6" />
<line x1="1362.2" y1="622.9" x2="1362.2" y2="1049.7" stroke="#f0f0f0" stroke-width="4.6" />
<line x1="1399.1" y1="622.9" x2="1399.1" y2="1049.7" stroke="#f0f0f0" stroke-width="4.6" />
<line x1="1425.29" y1="622.9" x2="1425.29" y2="1049.7" stroke="#f0f0f0" stroke-width="4.6" />
<line x1="1445.6" y1="622.9" x2="1445.6" y2="1049.7" stroke="#f0f0f0" stroke-width="4.6" />
<line x1="1462.2" y1="622.9" x2="1462.2" y2="1049.7" stroke="#f0f0f0" stroke-width="4.6" />
<line x1="1476.23" y1="622.9" x2="1476.23" y2="1049.7" stroke="#f0f0f0" stroke-width="4.6" />
<line x1="1488.39" y1="622.9" x2="1488.39" y2="1049.7" stroke="#f0f0f0" stroke-width="4.6" />
<line x1="1499.11" y1="622.9" x2="1499.11" y2="1049.7" stroke="#f0f0f0" stroke-width="4.6" />
<line x1="1508.7" y1="622.9" x2="1508.7" y2="1049.7" stroke="#cccccc" stroke-width="4.6" />
<line x1="1571.8" y1="622.9" x2="1571.8" y2="1049.7" stroke="#f0f0f0" stroke-width="4.6" />
<line x1="1608.7" y1="622.9" x2="1608.7" y2="1049.7" stroke="#f0f0f0" stroke-width="4.6" />
<line x1="1634.89" y1="622.9" x2="1634.89" y2="1049.7" stroke="#f0f0f0" stroke-width="4.6" />
<line x1="1655.2" y1="622.9" x2="1655.2" y2="1049.7" stroke="#f0f0f0" stroke-width="4.6" />
<line x1="1671.8" y1="622.9" x2="1671.8" y2="1049.7" stroke="#f0f0f0" stroke-width="4.6" />
<line x1="1685.83" y1="622.9" x2="1685.83" y2="1049.7" stroke="#f0f0f0" stroke-width="4.6" />
<line x1="1697.99" y1="622.9" x2="1697.99" y2="1049.7" stroke="#f0f0f0" stroke-width="4.6" />
<line x1="1708.71" y1="622.9" x2="1708.71" y2="1049.7" stroke="#f0f0f0" stroke-width="4.6" />
<line x1="1718.3" y1="622.9" x2="1718.3" y2="1049.7" stroke="#cccccc" stroke-width="4.6" />
<line x1="1781.4" y1="622.9" x2="1781.4" y2="1049.7" stroke="#f0f0f0" stroke-width="4.6" />
<line x1="1818.3" y1="622.9" x2="1818.3" y2="1049.7" stroke="#f0f0f0" stroke-width="4.6" />
<line x1="1844.49" y1="622.9" x2="1844.49" y2="1049.7" stroke="#f0f0f0" stroke-width="4.6" />
<line x1="1864.8" y1="622.9" x2="1864.8" y2="1049.7" stroke="#f0f0f0" stroke-width="4.6" />
<line x1="1881.4" y1="622.9" x2="1881.4" y2="1049.7" stroke="#f0f0f0" stroke-width="4.6" />
<line x1="1895.43" y1="622.9" x2="1895.43" y2="1049.7" stroke="#f0f0f0" stroke-width="4.6" />
<line x1="1907.59" y1="622.9" x2="1907.59" y2="1049.7" stroke="#f0f0f0" stroke-width="4.6" />
<line x1="1918.31" y1="622.9" x2="1918.31" y2="1049.7" stroke="#f0f0f0" stroke-width="4.6" />
<line x1="1089.5" y1="1029.06" x2="1928.4" y2="1029.06" stroke="#f0f0f0" stroke-width="4.6" />
<line x1="1089.5" y1="1008.82" x2="1928.4" y2="1008.82" stroke="#f0f0f0" stroke-width="4.6" />
<line x1="1089.5" y1="988.58" x2="1928.4" y2="988.58" stroke="#f0f0f0" stroke-width="4.6" />
<line x1="1089.5" y1="968.34" x2="1928.4" y2="968.34" stroke="#f0f0f0" stroke-width="4.6" />
<line x1="1089.5" y1="927.86" x2="1928.4" y2="927.86" stroke="#f0f0f0" stroke-width="4.6" />
<line x1="1089.5" y1="907.62" x2="1928.4" y2="907.62" stroke="#f0f0f0" stroke-width="4.6" />
<line x1="1089.5" y1="887.38" x2="1928.4" y2="887.38" stroke="#f0f0f0" stroke-width="4.6" />
<line x1="1089.5" y1="867.14" x2="1928.4" y2="867.14" stroke="#f0f0f0" stroke-width="4.6" />
<line x1="1089.5" y1="826.66" x2="1928.4" y2="826.66" stroke="#f0f0f0" stroke-width="4.6" />
<line x1="1089.5" y1="806.42" x2="1928.4" y2="806.42" stroke="#f0f0f0" stroke-width="4.6" />
<line x1="1089.5" y1="786.18" x2="1928.4" y2="786.18" stroke="#f0f0f0" stroke-width="4.6" />
<line x1="1089.5" y1="765.94" x2="1928.4" y2="765.94" stroke="#f0f0f0" stroke-width="4.6" />
<line x1="1089.5" y1="725.46" x2="1928.4" y2="725.46" stroke="#f0f0f0" stroke-width="4.6" />
<line x1="1089.5" y1="705.22" x2="1928.4" y2="705.22" stroke="#f0f0f0" stroke-width="4.6" />
<line x1="1089.5" y1="684.98" x2="1928.4" y2="684.98" stroke="#f0f0f0" stroke-width="4.6" />
<line x1="1089.5" y1="664.74" x2="1928.4" y2="664.74" stroke="#f0f0f0" stroke-width="4.6" />
<line x1="1089.5" y1="624.26" x2="1928.4" y2="624.26" stroke="#f0f0f0" stroke-width="4.6" />
<line x1="1089.5" y1="948.1" x2="1928.4" y2="948.1" stroke="#cccccc" stroke-width="4.6" />
<line x1="1089.5" y1="846.9" x2="1928.4" y2="846.9" stroke="#cccccc" stroke-width="4.6" />
<line x1="1089.5" y1="745.7" x2="1928.4" y2="745.7" stroke="#cccccc" stroke-width="4.6" />
<line x1="1089.5" y1="644.5" x2="1928.4" y2="644.5" stroke="#cccccc" stroke-width="4.6" />
</g>
<path d="M1089.5 1049.7v-10.4M1089.5 622.9v10.4M1152.6 1049.7v-6.6M1152.6 622.9v6.6M1189.5 1049.7v-6.6M1189.5 622.9v6.6M1215.69 1049.7v-6.6M1215.69 622.9v6.6M1236 1049.7v-6.6M1236 622.9v6.6M1252.6 1049.7v-6.6M1252.6 622.9v6.6M1266.63 1049.7v-6.6M1266.63 622.9v6.6M1278.79 1049.7v-6.6M1278.79 622.9v6.6M1289.51 1049.7v-6.6M1289.51 622.9v6.6M1299.1 1049.7v-10.4M1299.1 622.9v10.4M1362.2 1049.7v-6.6M1362.2 622.9v6.6M1399.1 1049.7v-6.6M1399.1 622.9v6.6M1425.29 1049.7v-6.6M1425.29 622.9v6.6M1445.6 1049.7v-6.6M1445.6 622.9v6.6M1462.2 1049.7v-6.6M1462.2 622.9v6.6M1476.23 1049.7v-6.6M1476.23 622.9v6.6M1488.39 1049.7v-6.6M1488.39 622.9v6.6M1499.11 1049.7v-6.6M1499.11 622.9v6.6M1508.7 1049.7v-10.4M1508.7 622.9v10.4M1571.8 1049.7v-6.6M1571.8 622.9v6.6M1608.7 1049.7v-6.6M1608.7 622.9v6.6M1634.89 1049.7v-6.6M1634.89 622.9v6.6M1655.2 1049.7v-6.6M1655.2 622.9v6.6M1671.8 1049.7v-6.6M1671.8 622.9v6.6M1685.83 1049.7v-6.6M1685.83 622.9v6.6M1697.99 1049.7v-6.6M1697.99 622.9v6.6M1708.71 1049.7v-6.6M1708.71 622.9v6.6M1718.3 1049.7v-10.4M1718.3 622.9v10.4M1781.4 1049.7v-6.6M1781.4 622.9v6.6M1818.3 1049.7v-6.6M1818.3 622.9v6.6M1844.49 1049.7v-6.6M1844.49 622.9v6.6M1864.8 1049.7v-6.6M1864.8 622.9v6.6M1881.4 1049.7v-6.6M1881.4 622.9v6.6M1895.43 1049.7v-6.6M1895.43 622.9v6.6M1907.59 1049.7v-6.6M1907.59 622.9v6.6M1918.31 1049.7v-6.6M1918.31 622.9v6.6M1089.5 1049.3h10.4M1928.4 1049.3h-10.4M1089.5 948.1h10.4M1928.4 948.1h-10.4M1089.5 846.9h10.4M1928.4 846.9h-10.4M1089.5 745.7h10.4M1928.4 745.7h-10.4M1089.5 644.5h10.4M1928.4 644.5h-10.4" stroke="#262626" stroke-width="4.2" fill="none"/>
<rect x="1089.5" y="622.9" width="838.9" height="426.8" rx="0" fill="none" stroke="#262626" stroke-width="4.5" />
<clipPath id="cc2"><rect x="1087.1" y="620.5" width="843.7" height="431.6"/></clipPath>
<g clip-path="url(#cc2)">
<polyline points="1089.5,861.47 1099.98,829.49 1110.46,847.91 1120.94,844.88 1131.42,851.56 1141.9,853.38 1152.38,839.61 1162.86,813.5 1173.34,872.2 1183.82,880.3 1194.3,895.48 1204.78,806.42 1215.26,828.08 1225.74,868.66 1236.22,858.44 1246.7,827.27 1257.18,822.21 1267.66,889 1278.14,752.78 1288.62,807.63 1299.1,903.57 1309.58,803.38 1320.06,809.86 1330.54,832.33 1341.02,852.77 1351.5,896.29 1361.98,752.78 1372.46,844.07 1382.94,919.76 1393.42,966.32 1403.9,721.01 1414.38,930.69 1424.86,880.3 1435.34,886.17 1445.82,790.23 1456.3,840.83 1466.78,998.7 1477.26,858.44 1487.74,872.2 1498.22,835.36 1508.7,807.63 1519.18,953.97 1529.66,897.5 1540.14,969.86 1550.62,826.66 1561.1,814.31 1571.58,875.84 1582.06,968.34 1592.54,875.84 1603.02,875.84 1613.5,854.19 1623.98,826.66 1634.46,810.47 1644.94,777.27 1655.42,778.69 1665.9,965.51 1676.38,897.5 1686.86,838.2 1697.34,913.29 1707.82,715.34 1718.3,928.47 1728.78,828.08 1739.26,792.25 1749.74,783.14 1760.22,964.09 1770.7,873.41 1781.18,814.52 1791.66,844.27 1802.14,959.03 1812.62,840.12 1823.1,795.29 1833.58,913.29 1844.06,853.68 1854.54,876.65 1865.02,835.97 1875.5,820.39 1885.98,854.79 1896.46,817.75 1906.94,850.54 1917.42,874.63 1927.9,820.39" fill="none" stroke="#9a4267" stroke-width="4.5" stroke-dasharray="4.3 4.3" stroke-linejoin="round"/>
<polyline points="1089.5,834.55 1099.98,890.42 1110.46,826.66 1120.94,838.2 1131.42,839.01 1141.9,842.55 1152.38,864.31 1162.86,830.91 1173.34,851.25 1183.82,859.25 1194.3,819.98 1204.78,832.33 1215.26,873.01 1225.74,835.36 1236.22,880.9 1246.7,813.5 1257.18,791.85 1267.66,835.36 1278.14,804.8 1288.62,947.49 1299.1,830.3 1309.58,880.9 1320.06,834.55 1330.54,870.78 1341.02,895.48 1351.5,807.63 1361.98,865.72 1372.46,939.4 1382.94,890.42 1393.42,854.19 1403.9,844.67 1414.38,915.11 1424.86,810.67 1435.34,867.14 1445.82,871.59 1456.3,919.16 1466.78,715.14 1477.26,864.31 1487.74,972.79 1498.22,832.33 1508.7,787.39 1519.18,924.82 1529.66,641.87 1540.14,945.27 1550.62,877.26 1561.1,907.62 1571.58,875.84 1582.06,758.65 1592.54,816.54 1603.02,621.63 1613.5,806.42 1623.98,1028.66 1634.46,856.21 1644.94,705.22 1655.42,824.64 1665.9,1002.55 1676.38,899.52 1686.86,1031.49 1697.34,627.3 1707.82,743.68 1718.3,767.96 1728.78,829.49 1739.26,796.7 1749.74,986.56 1760.22,890.21 1770.7,844.67 1781.18,881.92 1791.66,986.56 1802.14,737.6 1812.62,848.52 1823.1,832.73 1833.58,855.81 1844.06,861.47 1854.54,834.96 1865.02,743.47 1875.5,814.52 1885.98,844.27 1896.46,881.92 1906.94,816.54 1917.42,874.63 1927.9,848.52" fill="none" stroke="#9a4267" stroke-width="4.5" stroke-linejoin="round"/>
</g>
<rect x="1089.5" y="997.6" width="457.2" height="52.1" rx="0" fill="#fff" stroke="#262626" stroke-width="4.3" />
<line x1="1102.1" y1="1023.7" x2="1226.4" y2="1023.7" stroke="#9a4267" stroke-width="4.4" />
<line x1="1326.7" y1="1023.7" x2="1451.7" y2="1023.7" stroke="#9a4267" stroke-width="4.4" stroke-dasharray="4.3 4.3"/>
<text x="1236.6" y="1031.3" font-size="33.5" text-anchor="start" fill="#000" textLength="63.5" lengthAdjust="spacingAndGlyphs" >Real</text>
<text x="1461.1" y="1031.4" font-size="33.5" text-anchor="start" fill="#000" textLength="72" lengthAdjust="spacingAndGlyphs" >Imag</text>
<text x="979.7" y="609.6" fill="#1a1a1a" textLength="45.7" lengthAdjust="spacingAndGlyphs"><tspan font-size="46" dy="1.3">(</tspan><tspan font-size="39.5" dy="-1.3">c</tspan><tspan font-size="46" dy="1.3">)</tspan></text>
<text x="1080.3" y="655" font-size="34.3" text-anchor="end" fill="#1a1a1a" >1</text>
<text x="1080.3" y="757.3" font-size="34.3" text-anchor="end" fill="#1a1a1a" >0.5</text>
<text x="1080.3" y="858.4" font-size="34.3" text-anchor="end" fill="#1a1a1a" >0</text>
<text x="1080.3" y="960.2" font-size="34.3" text-anchor="end" fill="#1a1a1a" >-0.5</text>
<text x="1080.3" y="1060.5" font-size="34.3" text-anchor="end" fill="#1a1a1a" >-1</text>
<text fill="#1a1a1a"><tspan x="1065.5" y="1103" font-size="34" textLength="31.5" lengthAdjust="spacingAndGlyphs">10</tspan><tspan x="1100" y="1087.6" font-size="27.5" textLength="13.5" lengthAdjust="spacingAndGlyphs">1</tspan></text>
<text fill="#1a1a1a"><tspan x="1275.1" y="1103" font-size="34" textLength="31.5" lengthAdjust="spacingAndGlyphs">10</tspan><tspan x="1309.6" y="1087.6" font-size="27.5" textLength="13.5" lengthAdjust="spacingAndGlyphs">2</tspan></text>
<text fill="#1a1a1a"><tspan x="1484.7" y="1103" font-size="34" textLength="31.5" lengthAdjust="spacingAndGlyphs">10</tspan><tspan x="1519.2" y="1087.6" font-size="27.5" textLength="13.5" lengthAdjust="spacingAndGlyphs">3</tspan></text>
<text fill="#1a1a1a"><tspan x="1694.3" y="1103" font-size="34" textLength="31.5" lengthAdjust="spacingAndGlyphs">10</tspan><tspan x="1728.8" y="1087.6" font-size="27.5" textLength="13.5" lengthAdjust="spacingAndGlyphs">4</tspan></text>
<text transform="translate(1461.6 1142.2)" fill="#1a1a1a"><tspan x="2" y="0" font-size="35" textLength="12.5" lengthAdjust="spacingAndGlyphs" font-style="italic">f</tspan> <tspan x="30.5" y="7.5" font-size="46" textLength="14" lengthAdjust="spacingAndGlyphs">/</tspan> <tspan x="57.2" y="0" font-size="33.5" textLength="38.2" lengthAdjust="spacingAndGlyphs">Hz</tspan></text>
<text transform="translate(1012.6 954.8) rotate(-90)" fill="#1a1a1a"><tspan x="0" y="0" font-size="33.5" textLength="89.3" lengthAdjust="spacingAndGlyphs">Norm.</tspan> <tspan x="106.9" y="0" font-size="33.5" textLength="58.7" lengthAdjust="spacingAndGlyphs">Res.</tspan> <tspan x="184.4" y="7.5" font-size="46" textLength="14" lengthAdjust="spacingAndGlyphs">/</tspan> <tspan x="213.7" y="0" font-size="30" textLength="23.5" lengthAdjust="spacingAndGlyphs">%</tspan></text>
</svg>
</body></html>
